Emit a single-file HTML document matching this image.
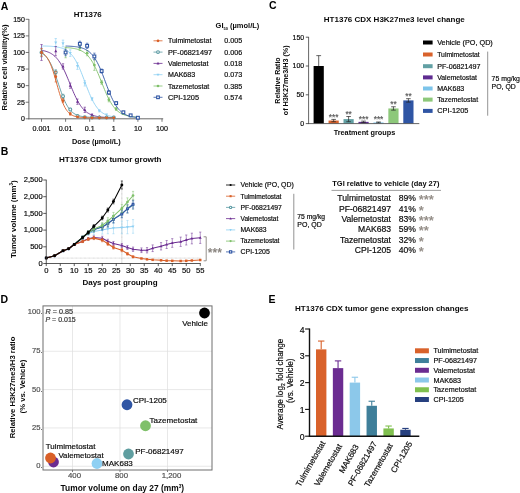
<!DOCTYPE html>
<html lang="en">
<head>
<meta charset="utf-8">
<title>HT1376 figure</title>
<style>
html,body{margin:0;padding:0;background:#fff;}
body{width:520px;height:493px;overflow:hidden;font-family:"Liberation Sans",sans-serif;}
svg text{font-family:"Liberation Sans",sans-serif;}
</style>
</head>
<body>
<svg width="520" height="493" viewBox="0 0 520 493" font-family='"Liberation Sans", sans-serif' style="display:block">
<rect width="520" height="493" fill="#fff"/>
<text x="0.80" y="9.60" font-size="10.5" font-weight="bold">A</text>
<text x="0.80" y="155.00" font-size="10.5" font-weight="bold">B</text>
<text x="268.90" y="9.20" font-size="10.5" font-weight="bold">C</text>
<text x="0.60" y="303.10" font-size="10.5" font-weight="bold">D</text>
<text x="268.50" y="303.00" font-size="10.5" font-weight="bold">E</text>
<text x="87.70" y="16.50" font-size="7.9" font-weight="bold" text-anchor="middle" fill="#0a0a0a">HT1376</text>
<text x="6.50" y="67.50" font-size="7.6" font-weight="bold" text-anchor="middle" fill="#0a0a0a" transform="rotate(-90 6.50 67.50)">Relative cell viability(%)</text>
<text x="96.40" y="144.10" font-size="7.35" font-weight="bold" text-anchor="middle" fill="#0a0a0a">Dose (µmol/L)</text>
<line x1="28.90" y1="19.00" x2="28.90" y2="119.30" stroke="#6a6a6a" stroke-width="1.0"/>
<line x1="28.40" y1="118.80" x2="163.20" y2="118.80" stroke="#6a6a6a" stroke-width="1.0"/>
<line x1="25.70" y1="118.80" x2="28.90" y2="118.80" stroke="#555" stroke-width="0.8"/>
<text x="24.90" y="121.15" font-size="7.0" text-anchor="end" fill="#0a0a0a" stroke="#0a0a0a" stroke-width="0.18">0</text>
<line x1="25.70" y1="102.22" x2="28.90" y2="102.22" stroke="#555" stroke-width="0.8"/>
<text x="24.90" y="104.57" font-size="7.0" text-anchor="end" fill="#0a0a0a" stroke="#0a0a0a" stroke-width="0.18">25</text>
<line x1="25.70" y1="85.63" x2="28.90" y2="85.63" stroke="#555" stroke-width="0.8"/>
<text x="24.90" y="87.98" font-size="7.0" text-anchor="end" fill="#0a0a0a" stroke="#0a0a0a" stroke-width="0.18">50</text>
<line x1="25.70" y1="69.05" x2="28.90" y2="69.05" stroke="#555" stroke-width="0.8"/>
<text x="24.90" y="71.40" font-size="7.0" text-anchor="end" fill="#0a0a0a" stroke="#0a0a0a" stroke-width="0.18">75</text>
<line x1="25.70" y1="52.47" x2="28.90" y2="52.47" stroke="#555" stroke-width="0.8"/>
<text x="24.90" y="54.82" font-size="7.0" text-anchor="end" fill="#0a0a0a" stroke="#0a0a0a" stroke-width="0.18">100</text>
<line x1="25.70" y1="35.88" x2="28.90" y2="35.88" stroke="#555" stroke-width="0.8"/>
<text x="24.90" y="38.23" font-size="7.0" text-anchor="end" fill="#0a0a0a" stroke="#0a0a0a" stroke-width="0.18">125</text>
<line x1="25.70" y1="19.30" x2="28.90" y2="19.30" stroke="#555" stroke-width="0.8"/>
<text x="24.90" y="21.65" font-size="7.0" text-anchor="end" fill="#0a0a0a" stroke="#0a0a0a" stroke-width="0.18">150</text>
<line x1="41.50" y1="118.80" x2="41.50" y2="121.80" stroke="#555" stroke-width="0.8"/>
<text x="41.50" y="130.80" font-size="7.15" text-anchor="middle" fill="#0a0a0a" stroke="#0a0a0a" stroke-width="0.18">0.001</text>
<line x1="65.60" y1="118.80" x2="65.60" y2="121.80" stroke="#555" stroke-width="0.8"/>
<text x="65.60" y="130.80" font-size="7.15" text-anchor="middle" fill="#0a0a0a" stroke="#0a0a0a" stroke-width="0.18">0.01</text>
<line x1="89.70" y1="118.80" x2="89.70" y2="121.80" stroke="#555" stroke-width="0.8"/>
<text x="89.70" y="130.80" font-size="7.15" text-anchor="middle" fill="#0a0a0a" stroke="#0a0a0a" stroke-width="0.18">0.1</text>
<line x1="113.80" y1="118.80" x2="113.80" y2="121.80" stroke="#555" stroke-width="0.8"/>
<text x="113.80" y="130.80" font-size="7.15" text-anchor="middle" fill="#0a0a0a" stroke="#0a0a0a" stroke-width="0.18">1</text>
<line x1="137.90" y1="118.80" x2="137.90" y2="121.80" stroke="#555" stroke-width="0.8"/>
<text x="137.90" y="130.80" font-size="7.15" text-anchor="middle" fill="#0a0a0a" stroke="#0a0a0a" stroke-width="0.18">10</text>
<line x1="162.00" y1="118.80" x2="162.00" y2="121.80" stroke="#555" stroke-width="0.8"/>
<text x="162.00" y="130.80" font-size="7.15" text-anchor="middle" fill="#0a0a0a" stroke="#0a0a0a" stroke-width="0.18">100</text>
<polyline points="41.50,45.95 42.40,45.97 43.31,45.99 44.21,46.01 45.11,46.03 46.02,46.06 46.92,46.09 47.83,46.13 48.73,46.17 49.63,46.22 50.54,46.28 51.44,46.34 52.35,46.41 53.25,46.49 54.15,46.59 55.06,46.69 55.96,46.82 56.86,46.95 57.77,47.11 58.67,47.29 59.58,47.49 60.48,47.73 61.38,47.99 62.29,48.29 63.19,48.63 64.09,49.01 65.00,49.44 65.90,49.93 66.81,50.48 67.71,51.09 68.61,51.78 69.52,52.56 70.42,53.42 71.32,54.37 72.23,55.43 73.13,56.60 74.03,57.89 74.94,59.29 75.84,60.82 76.75,62.47 77.65,64.24 78.55,66.13 79.46,68.14 80.36,70.25 81.27,72.45 82.17,74.73 83.07,77.07 83.98,79.46 84.88,81.86 85.78,84.27 86.69,86.65 87.59,88.99 88.50,91.27 89.40,93.47 90.30,95.57 91.21,97.58 92.11,99.47 93.01,101.23 93.92,102.88 94.82,104.40 95.72,105.80 96.63,107.08 97.53,108.24 98.44,109.30 99.34,110.25 100.24,111.11 101.15,111.88 102.05,112.57 102.95,113.18 103.86,113.73 104.76,114.21 105.67,114.64 106.57,115.03 107.47,115.36 108.38,115.66 109.28,115.92 110.19,116.15 111.09,116.35 111.99,116.53 112.90,116.69 113.80,116.83" fill="none" stroke="#8fd0f3" stroke-width="0.9" stroke-linejoin="round"/>
<line x1="41.50" y1="47.82" x2="41.50" y2="57.11" stroke="#8fd0f3" stroke-width="0.6"/>
<line x1="40.30" y1="47.82" x2="42.70" y2="47.82" stroke="#8fd0f3" stroke-width="0.6"/>
<line x1="40.30" y1="57.11" x2="42.70" y2="57.11" stroke="#8fd0f3" stroke-width="0.6"/>
<line x1="55.74" y1="38.54" x2="55.74" y2="46.50" stroke="#8fd0f3" stroke-width="0.6"/>
<line x1="54.54" y1="38.54" x2="56.94" y2="38.54" stroke="#8fd0f3" stroke-width="0.6"/>
<line x1="54.54" y1="46.50" x2="56.94" y2="46.50" stroke="#8fd0f3" stroke-width="0.6"/>
<line x1="63.00" y1="40.13" x2="63.00" y2="46.76" stroke="#8fd0f3" stroke-width="0.6"/>
<line x1="61.80" y1="40.13" x2="64.20" y2="40.13" stroke="#8fd0f3" stroke-width="0.6"/>
<line x1="61.80" y1="46.76" x2="64.20" y2="46.76" stroke="#8fd0f3" stroke-width="0.6"/>
<line x1="70.25" y1="49.81" x2="70.25" y2="56.45" stroke="#8fd0f3" stroke-width="0.6"/>
<line x1="69.05" y1="49.81" x2="71.45" y2="49.81" stroke="#8fd0f3" stroke-width="0.6"/>
<line x1="69.05" y1="56.45" x2="71.45" y2="56.45" stroke="#8fd0f3" stroke-width="0.6"/>
<line x1="77.44" y1="62.75" x2="77.44" y2="69.38" stroke="#8fd0f3" stroke-width="0.6"/>
<line x1="76.24" y1="62.75" x2="78.64" y2="62.75" stroke="#8fd0f3" stroke-width="0.6"/>
<line x1="76.24" y1="69.38" x2="78.64" y2="69.38" stroke="#8fd0f3" stroke-width="0.6"/>
<line x1="84.78" y1="80.72" x2="84.78" y2="86.03" stroke="#8fd0f3" stroke-width="0.6"/>
<line x1="83.58" y1="80.72" x2="85.98" y2="80.72" stroke="#8fd0f3" stroke-width="0.6"/>
<line x1="83.58" y1="86.03" x2="85.98" y2="86.03" stroke="#8fd0f3" stroke-width="0.6"/>
<line x1="92.04" y1="97.57" x2="92.04" y2="100.23" stroke="#8fd0f3" stroke-width="0.6"/>
<line x1="90.84" y1="97.57" x2="93.24" y2="97.57" stroke="#8fd0f3" stroke-width="0.6"/>
<line x1="90.84" y1="100.23" x2="93.24" y2="100.23" stroke="#8fd0f3" stroke-width="0.6"/>
<line x1="99.29" y1="109.84" x2="99.29" y2="111.83" stroke="#8fd0f3" stroke-width="0.6"/>
<line x1="98.09" y1="109.84" x2="100.49" y2="109.84" stroke="#8fd0f3" stroke-width="0.6"/>
<line x1="98.09" y1="111.83" x2="100.49" y2="111.83" stroke="#8fd0f3" stroke-width="0.6"/>
<polygon points="41.50,54.17 40.00,51.37 43.00,51.37" fill="#8fd0f3"/>
<polygon points="55.74,44.22 54.24,41.42 57.24,41.42" fill="#8fd0f3"/>
<polygon points="63.00,45.15 61.50,42.35 64.50,42.35" fill="#8fd0f3"/>
<polygon points="70.25,54.83 68.75,52.03 71.75,52.03" fill="#8fd0f3"/>
<polygon points="77.44,67.77 75.94,64.97 78.94,64.97" fill="#8fd0f3"/>
<polygon points="84.78,85.08 83.28,82.28 86.28,82.28" fill="#8fd0f3"/>
<polygon points="92.04,100.60 90.54,97.80 93.54,97.80" fill="#8fd0f3"/>
<polygon points="99.29,112.54 97.79,109.74 100.79,109.74" fill="#8fd0f3"/>
<polygon points="106.55,116.19 105.05,113.39 108.05,113.39" fill="#8fd0f3"/>
<polygon points="113.80,118.51 112.30,115.71 115.30,115.71" fill="#8fd0f3"/>
<polyline points="65.60,47.56 66.50,47.62 67.41,47.68 68.31,47.75 69.22,47.83 70.12,47.92 71.02,48.02 71.93,48.14 72.83,48.28 73.73,48.43 74.64,48.60 75.54,48.79 76.44,49.01 77.35,49.26 78.25,49.54 79.16,49.86 80.06,50.22 80.96,50.62 81.87,51.07 82.77,51.58 83.68,52.15 84.58,52.78 85.48,53.49 86.39,54.28 87.29,55.15 88.19,56.11 89.10,57.17 90.00,58.34 90.91,59.61 91.81,60.99 92.71,62.49 93.62,64.10 94.52,65.82 95.42,67.65 96.33,69.58 97.23,71.60 98.14,73.70 99.04,75.87 99.94,78.10 100.85,80.35 101.75,82.63 102.65,84.90 103.56,87.15 104.46,89.36 105.37,91.52 106.27,93.60 107.17,95.60 108.08,97.50 108.98,99.30 109.88,100.99 110.79,102.57 111.69,104.03 112.60,105.38 113.50,106.63 114.40,107.76 115.31,108.80 116.21,109.73 117.11,110.58 118.02,111.35 118.92,112.03 119.83,112.65 120.73,113.20 121.63,113.69 122.54,114.13 123.44,114.52 124.34,114.86 125.25,115.17 126.15,115.44 127.06,115.68 127.96,115.89 128.86,116.08 129.77,116.25 130.67,116.40 131.57,116.52 132.48,116.64 133.38,116.74 134.29,116.83 135.19,116.91 136.09,116.97 137.00,117.03 137.90,117.09" fill="none" stroke="#7fc06a" stroke-width="0.9" stroke-linejoin="round"/>
<line x1="65.60" y1="47.16" x2="65.60" y2="57.77" stroke="#7fc06a" stroke-width="0.6"/>
<line x1="64.40" y1="47.16" x2="66.80" y2="47.16" stroke="#7fc06a" stroke-width="0.6"/>
<line x1="64.40" y1="57.77" x2="66.80" y2="57.77" stroke="#7fc06a" stroke-width="0.6"/>
<line x1="79.86" y1="45.17" x2="79.86" y2="50.48" stroke="#7fc06a" stroke-width="0.6"/>
<line x1="78.66" y1="45.17" x2="81.06" y2="45.17" stroke="#7fc06a" stroke-width="0.6"/>
<line x1="78.66" y1="50.48" x2="81.06" y2="50.48" stroke="#7fc06a" stroke-width="0.6"/>
<line x1="87.12" y1="50.48" x2="87.12" y2="55.78" stroke="#7fc06a" stroke-width="0.6"/>
<line x1="85.92" y1="50.48" x2="88.32" y2="50.48" stroke="#7fc06a" stroke-width="0.6"/>
<line x1="85.92" y1="55.78" x2="88.32" y2="55.78" stroke="#7fc06a" stroke-width="0.6"/>
<line x1="94.37" y1="59.76" x2="94.37" y2="70.38" stroke="#7fc06a" stroke-width="0.6"/>
<line x1="93.17" y1="59.76" x2="95.57" y2="59.76" stroke="#7fc06a" stroke-width="0.6"/>
<line x1="93.17" y1="70.38" x2="95.57" y2="70.38" stroke="#7fc06a" stroke-width="0.6"/>
<line x1="101.63" y1="80.33" x2="101.63" y2="84.31" stroke="#7fc06a" stroke-width="0.6"/>
<line x1="100.43" y1="80.33" x2="102.83" y2="80.33" stroke="#7fc06a" stroke-width="0.6"/>
<line x1="100.43" y1="84.31" x2="102.83" y2="84.31" stroke="#7fc06a" stroke-width="0.6"/>
<line x1="108.88" y1="97.84" x2="108.88" y2="101.82" stroke="#7fc06a" stroke-width="0.6"/>
<line x1="107.68" y1="97.84" x2="110.08" y2="97.84" stroke="#7fc06a" stroke-width="0.6"/>
<line x1="107.68" y1="101.82" x2="110.08" y2="101.82" stroke="#7fc06a" stroke-width="0.6"/>
<line x1="116.14" y1="107.66" x2="116.14" y2="110.31" stroke="#7fc06a" stroke-width="0.6"/>
<line x1="114.94" y1="107.66" x2="117.34" y2="107.66" stroke="#7fc06a" stroke-width="0.6"/>
<line x1="114.94" y1="110.31" x2="117.34" y2="110.31" stroke="#7fc06a" stroke-width="0.6"/>
<line x1="123.39" y1="112.50" x2="123.39" y2="114.49" stroke="#7fc06a" stroke-width="0.6"/>
<line x1="122.19" y1="112.50" x2="124.59" y2="112.50" stroke="#7fc06a" stroke-width="0.6"/>
<line x1="122.19" y1="114.49" x2="124.59" y2="114.49" stroke="#7fc06a" stroke-width="0.6"/>
<circle cx="65.60" cy="52.47" r="1.4" fill="#7fc06a" stroke="none" stroke-width="0"/>
<circle cx="79.86" cy="47.82" r="1.4" fill="#7fc06a" stroke="none" stroke-width="0"/>
<circle cx="87.12" cy="53.13" r="1.4" fill="#7fc06a" stroke="none" stroke-width="0"/>
<circle cx="94.37" cy="65.07" r="1.4" fill="#7fc06a" stroke="none" stroke-width="0"/>
<circle cx="101.63" cy="82.32" r="1.4" fill="#7fc06a" stroke="none" stroke-width="0"/>
<circle cx="108.88" cy="99.83" r="1.4" fill="#7fc06a" stroke="none" stroke-width="0"/>
<circle cx="116.14" cy="108.98" r="1.4" fill="#7fc06a" stroke="none" stroke-width="0"/>
<circle cx="123.39" cy="113.49" r="1.4" fill="#7fc06a" stroke="none" stroke-width="0"/>
<circle cx="130.65" cy="116.01" r="1.4" fill="#7fc06a" stroke="none" stroke-width="0"/>
<circle cx="137.90" cy="117.74" r="1.4" fill="#7fc06a" stroke="none" stroke-width="0"/>
<polyline points="65.60,46.03 66.50,46.06 67.41,46.09 68.31,46.13 69.22,46.17 70.12,46.22 71.02,46.27 71.93,46.34 72.83,46.41 73.73,46.49 74.64,46.58 75.54,46.69 76.44,46.81 77.35,46.94 78.25,47.10 79.16,47.28 80.06,47.48 80.96,47.71 81.87,47.97 82.77,48.27 83.68,48.60 84.58,48.98 85.48,49.41 86.39,49.89 87.29,50.44 88.19,51.05 89.10,51.73 90.00,52.50 90.91,53.36 91.81,54.31 92.71,55.36 93.62,56.53 94.52,57.80 95.42,59.20 96.33,60.72 97.23,62.36 98.14,64.13 99.04,66.02 99.94,68.03 100.85,70.14 101.75,72.34 102.65,74.62 103.56,76.97 104.46,79.36 105.37,81.78 106.27,84.19 107.17,86.59 108.08,88.95 108.98,91.24 109.88,93.46 110.79,95.59 111.69,97.61 112.60,99.52 113.50,101.31 114.40,102.98 115.31,104.52 116.21,105.94 117.11,107.23 118.02,108.42 118.92,109.49 119.83,110.46 120.73,111.33 121.63,112.11 122.54,112.81 123.44,113.43 124.34,113.99 125.25,114.48 126.15,114.92 127.06,115.31 127.96,115.65 128.86,115.95 129.77,116.22 130.67,116.45 131.57,116.66 132.48,116.84 133.38,117.00 134.29,117.14 135.19,117.26 136.09,117.37 137.00,117.47 137.90,117.55" fill="none" stroke="#2f55a4" stroke-width="0.9" stroke-linejoin="round"/>
<line x1="65.60" y1="49.15" x2="65.60" y2="55.78" stroke="#2f55a4" stroke-width="0.6"/>
<line x1="64.40" y1="49.15" x2="66.80" y2="49.15" stroke="#2f55a4" stroke-width="0.6"/>
<line x1="64.40" y1="55.78" x2="66.80" y2="55.78" stroke="#2f55a4" stroke-width="0.6"/>
<line x1="79.86" y1="41.19" x2="79.86" y2="46.50" stroke="#2f55a4" stroke-width="0.6"/>
<line x1="78.66" y1="41.19" x2="81.06" y2="41.19" stroke="#2f55a4" stroke-width="0.6"/>
<line x1="78.66" y1="46.50" x2="81.06" y2="46.50" stroke="#2f55a4" stroke-width="0.6"/>
<line x1="87.12" y1="43.18" x2="87.12" y2="48.49" stroke="#2f55a4" stroke-width="0.6"/>
<line x1="85.92" y1="43.18" x2="88.32" y2="43.18" stroke="#2f55a4" stroke-width="0.6"/>
<line x1="85.92" y1="48.49" x2="88.32" y2="48.49" stroke="#2f55a4" stroke-width="0.6"/>
<line x1="94.37" y1="53.13" x2="94.37" y2="59.76" stroke="#2f55a4" stroke-width="0.6"/>
<line x1="93.17" y1="53.13" x2="95.57" y2="53.13" stroke="#2f55a4" stroke-width="0.6"/>
<line x1="93.17" y1="59.76" x2="95.57" y2="59.76" stroke="#2f55a4" stroke-width="0.6"/>
<line x1="101.63" y1="69.05" x2="101.63" y2="73.03" stroke="#2f55a4" stroke-width="0.6"/>
<line x1="100.43" y1="69.05" x2="102.83" y2="69.05" stroke="#2f55a4" stroke-width="0.6"/>
<line x1="100.43" y1="73.03" x2="102.83" y2="73.03" stroke="#2f55a4" stroke-width="0.6"/>
<line x1="108.88" y1="90.54" x2="108.88" y2="94.52" stroke="#2f55a4" stroke-width="0.6"/>
<line x1="107.68" y1="90.54" x2="110.08" y2="90.54" stroke="#2f55a4" stroke-width="0.6"/>
<line x1="107.68" y1="94.52" x2="110.08" y2="94.52" stroke="#2f55a4" stroke-width="0.6"/>
<line x1="116.14" y1="101.82" x2="116.14" y2="104.47" stroke="#2f55a4" stroke-width="0.6"/>
<line x1="114.94" y1="101.82" x2="117.34" y2="101.82" stroke="#2f55a4" stroke-width="0.6"/>
<line x1="114.94" y1="104.47" x2="117.34" y2="104.47" stroke="#2f55a4" stroke-width="0.6"/>
<line x1="123.39" y1="111.30" x2="123.39" y2="113.29" stroke="#2f55a4" stroke-width="0.6"/>
<line x1="122.19" y1="111.30" x2="124.59" y2="111.30" stroke="#2f55a4" stroke-width="0.6"/>
<line x1="122.19" y1="113.29" x2="124.59" y2="113.29" stroke="#2f55a4" stroke-width="0.6"/>
<rect x="64.20" y="51.07" width="2.80" height="2.80" fill="#fff" stroke="#2f55a4" stroke-width="1.1"/>
<rect x="78.46" y="42.44" width="2.80" height="2.80" fill="#fff" stroke="#2f55a4" stroke-width="1.1"/>
<rect x="85.72" y="44.43" width="2.80" height="2.80" fill="#fff" stroke="#2f55a4" stroke-width="1.1"/>
<rect x="92.97" y="55.05" width="2.80" height="2.80" fill="#fff" stroke="#2f55a4" stroke-width="1.1"/>
<rect x="100.23" y="69.64" width="2.80" height="2.80" fill="#fff" stroke="#2f55a4" stroke-width="1.1"/>
<rect x="107.48" y="91.13" width="2.80" height="2.80" fill="#fff" stroke="#2f55a4" stroke-width="1.1"/>
<rect x="114.74" y="101.75" width="2.80" height="2.80" fill="#fff" stroke="#2f55a4" stroke-width="1.1"/>
<rect x="121.99" y="110.90" width="2.80" height="2.80" fill="#fff" stroke="#2f55a4" stroke-width="1.1"/>
<rect x="129.25" y="113.95" width="2.80" height="2.80" fill="#fff" stroke="#2f55a4" stroke-width="1.1"/>
<rect x="136.50" y="116.34" width="2.80" height="2.80" fill="#fff" stroke="#2f55a4" stroke-width="1.1"/>
<polyline points="41.50,50.31 42.40,50.47 43.31,50.65 44.21,50.85 45.11,51.08 46.02,51.34 46.92,51.63 47.83,51.96 48.73,52.33 49.63,52.74 50.54,53.21 51.44,53.73 52.35,54.32 53.25,54.97 54.15,55.70 55.06,56.51 55.96,57.41 56.86,58.40 57.77,59.48 58.67,60.67 59.58,61.97 60.48,63.37 61.38,64.89 62.29,66.51 63.19,68.25 64.09,70.08 65.00,72.01 65.90,74.03 66.81,76.12 67.71,78.27 68.61,80.46 69.52,82.67 70.42,84.89 71.32,87.10 72.23,89.28 73.13,91.42 74.03,93.49 74.94,95.48 75.84,97.39 76.75,99.19 77.65,100.90 78.55,102.49 79.46,103.98 80.36,105.36 81.27,106.62 82.17,107.78 83.07,108.84 83.98,109.80 84.88,110.67 85.78,111.46 86.69,112.17 87.59,112.80 88.50,113.37 89.40,113.88 90.30,114.33 91.21,114.73 92.11,115.09 93.01,115.41 93.92,115.69 94.82,115.94 95.72,116.16 96.63,116.36 97.53,116.53 98.44,116.68 99.34,116.82 100.24,116.94 101.15,117.04 102.05,117.13 102.95,117.21 103.86,117.28 104.76,117.35 105.67,117.40 106.57,117.45 107.47,117.49 108.38,117.53 109.28,117.56 110.19,117.59 111.09,117.62 111.99,117.64 112.90,117.66 113.80,117.68" fill="none" stroke="#6b2c91" stroke-width="0.9" stroke-linejoin="round"/>
<line x1="41.50" y1="44.51" x2="41.50" y2="60.43" stroke="#6b2c91" stroke-width="0.6"/>
<line x1="40.30" y1="44.51" x2="42.70" y2="44.51" stroke="#6b2c91" stroke-width="0.6"/>
<line x1="40.30" y1="60.43" x2="42.70" y2="60.43" stroke="#6b2c91" stroke-width="0.6"/>
<line x1="55.74" y1="46.50" x2="55.74" y2="55.78" stroke="#6b2c91" stroke-width="0.6"/>
<line x1="54.54" y1="46.50" x2="56.94" y2="46.50" stroke="#6b2c91" stroke-width="0.6"/>
<line x1="54.54" y1="55.78" x2="56.94" y2="55.78" stroke="#6b2c91" stroke-width="0.6"/>
<line x1="63.00" y1="63.74" x2="63.00" y2="69.05" stroke="#6b2c91" stroke-width="0.6"/>
<line x1="61.80" y1="63.74" x2="64.20" y2="63.74" stroke="#6b2c91" stroke-width="0.6"/>
<line x1="61.80" y1="69.05" x2="64.20" y2="69.05" stroke="#6b2c91" stroke-width="0.6"/>
<line x1="70.25" y1="82.98" x2="70.25" y2="88.29" stroke="#6b2c91" stroke-width="0.6"/>
<line x1="69.05" y1="82.98" x2="71.45" y2="82.98" stroke="#6b2c91" stroke-width="0.6"/>
<line x1="69.05" y1="88.29" x2="71.45" y2="88.29" stroke="#6b2c91" stroke-width="0.6"/>
<line x1="77.44" y1="99.03" x2="77.44" y2="104.34" stroke="#6b2c91" stroke-width="0.6"/>
<line x1="76.24" y1="99.03" x2="78.64" y2="99.03" stroke="#6b2c91" stroke-width="0.6"/>
<line x1="76.24" y1="104.34" x2="78.64" y2="104.34" stroke="#6b2c91" stroke-width="0.6"/>
<line x1="84.78" y1="107.19" x2="84.78" y2="112.50" stroke="#6b2c91" stroke-width="0.6"/>
<line x1="83.58" y1="107.19" x2="85.98" y2="107.19" stroke="#6b2c91" stroke-width="0.6"/>
<line x1="83.58" y1="112.50" x2="85.98" y2="112.50" stroke="#6b2c91" stroke-width="0.6"/>
<line x1="92.04" y1="114.02" x2="92.04" y2="116.01" stroke="#6b2c91" stroke-width="0.6"/>
<line x1="90.84" y1="114.02" x2="93.24" y2="114.02" stroke="#6b2c91" stroke-width="0.6"/>
<line x1="90.84" y1="116.01" x2="93.24" y2="116.01" stroke="#6b2c91" stroke-width="0.6"/>
<polygon points="41.50,50.77 40.00,53.57 43.00,53.57" fill="#6b2c91"/>
<polygon points="55.74,49.44 54.24,52.24 57.24,52.24" fill="#6b2c91"/>
<polygon points="63.00,64.70 61.50,67.50 64.50,67.50" fill="#6b2c91"/>
<polygon points="70.25,83.93 68.75,86.73 71.75,86.73" fill="#6b2c91"/>
<polygon points="77.44,99.99 75.94,102.79 78.94,102.79" fill="#6b2c91"/>
<polygon points="84.78,108.14 83.28,110.94 86.28,110.94" fill="#6b2c91"/>
<polygon points="92.04,113.32 90.54,116.12 93.54,116.12" fill="#6b2c91"/>
<polygon points="99.29,115.11 97.79,117.91 100.79,117.91" fill="#6b2c91"/>
<polygon points="106.55,115.77 105.05,118.57 108.05,118.57" fill="#6b2c91"/>
<polygon points="113.80,115.77 112.30,118.57 115.30,118.57" fill="#6b2c91"/>
<polyline points="41.50,53.09 42.40,53.63 43.31,54.25 44.21,54.95 45.11,55.77 46.02,56.69 46.92,57.74 47.83,58.93 48.73,60.27 49.63,61.76 50.54,63.41 51.44,65.23 52.35,67.22 53.25,69.36 54.15,71.65 55.06,74.08 55.96,76.62 56.86,79.24 57.77,81.92 58.67,84.62 59.58,87.31 60.48,89.95 61.38,92.51 62.29,94.97 63.19,97.30 64.09,99.49 65.00,101.52 65.90,103.38 66.81,105.08 67.71,106.62 68.61,108.00 69.52,109.23 70.42,110.31 71.32,111.27 72.23,112.12 73.13,112.85 74.03,113.50 74.94,114.05 75.84,114.54 76.75,114.95 77.65,115.31 78.55,115.62 79.46,115.89 80.36,116.12 81.27,116.32 82.17,116.48 83.07,116.63 83.98,116.75 84.88,116.86 85.78,116.95 86.69,117.02 87.59,117.09 88.50,117.15 89.40,117.19 90.30,117.24 91.21,117.27 92.11,117.30 93.01,117.33 93.92,117.35 94.82,117.37 95.72,117.38 96.63,117.40 97.53,117.41 98.44,117.42 99.34,117.43 100.24,117.43 101.15,117.44 102.05,117.44 102.95,117.45 103.86,117.45 104.76,117.45 105.67,117.46 106.57,117.46 107.47,117.46 108.38,117.46 109.28,117.47 110.19,117.47 111.09,117.47 111.99,117.47 112.90,117.47 113.80,117.47" fill="none" stroke="#5b9aa3" stroke-width="0.9" stroke-linejoin="round"/>
<line x1="41.50" y1="49.15" x2="41.50" y2="55.78" stroke="#5b9aa3" stroke-width="0.6"/>
<line x1="40.30" y1="49.15" x2="42.70" y2="49.15" stroke="#5b9aa3" stroke-width="0.6"/>
<line x1="40.30" y1="55.78" x2="42.70" y2="55.78" stroke="#5b9aa3" stroke-width="0.6"/>
<line x1="55.76" y1="69.71" x2="55.76" y2="75.02" stroke="#5b9aa3" stroke-width="0.6"/>
<line x1="54.56" y1="69.71" x2="56.96" y2="69.71" stroke="#5b9aa3" stroke-width="0.6"/>
<line x1="54.56" y1="75.02" x2="56.96" y2="75.02" stroke="#5b9aa3" stroke-width="0.6"/>
<line x1="63.02" y1="94.26" x2="63.02" y2="98.24" stroke="#5b9aa3" stroke-width="0.6"/>
<line x1="61.82" y1="94.26" x2="64.22" y2="94.26" stroke="#5b9aa3" stroke-width="0.6"/>
<line x1="61.82" y1="98.24" x2="64.22" y2="98.24" stroke="#5b9aa3" stroke-width="0.6"/>
<line x1="70.27" y1="108.19" x2="70.27" y2="110.84" stroke="#5b9aa3" stroke-width="0.6"/>
<line x1="69.07" y1="108.19" x2="71.47" y2="108.19" stroke="#5b9aa3" stroke-width="0.6"/>
<line x1="69.07" y1="110.84" x2="71.47" y2="110.84" stroke="#5b9aa3" stroke-width="0.6"/>
<circle cx="41.50" cy="52.47" r="1.45" fill="#fff" stroke="#5b9aa3" stroke-width="1.1"/>
<circle cx="55.76" cy="72.37" r="1.45" fill="#fff" stroke="#5b9aa3" stroke-width="1.1"/>
<circle cx="63.02" cy="96.25" r="1.45" fill="#fff" stroke="#5b9aa3" stroke-width="1.1"/>
<circle cx="70.27" cy="109.51" r="1.45" fill="#fff" stroke="#5b9aa3" stroke-width="1.1"/>
<circle cx="77.53" cy="115.88" r="1.45" fill="#fff" stroke="#5b9aa3" stroke-width="1.1"/>
<circle cx="84.78" cy="117.14" r="1.45" fill="#fff" stroke="#5b9aa3" stroke-width="1.1"/>
<circle cx="92.04" cy="117.47" r="1.45" fill="#fff" stroke="#5b9aa3" stroke-width="1.1"/>
<circle cx="99.29" cy="117.47" r="1.45" fill="#fff" stroke="#5b9aa3" stroke-width="1.1"/>
<circle cx="106.55" cy="117.47" r="1.45" fill="#fff" stroke="#5b9aa3" stroke-width="1.1"/>
<circle cx="113.80" cy="117.47" r="1.45" fill="#fff" stroke="#5b9aa3" stroke-width="1.1"/>
<polyline points="41.50,52.45 42.40,52.98 43.31,53.61 44.21,54.35 45.11,55.22 46.02,56.24 46.92,57.44 47.83,58.82 48.73,60.41 49.63,62.22 50.54,64.27 51.44,66.55 52.35,69.06 53.25,71.78 54.15,74.70 55.06,77.76 55.96,80.93 56.86,84.16 57.77,87.37 58.67,90.52 59.58,93.56 60.48,96.44 61.38,99.12 62.29,101.58 63.19,103.81 64.09,105.80 65.00,107.57 65.90,109.11 66.81,110.45 67.71,111.61 68.61,112.60 69.52,113.44 70.42,114.16 71.32,114.76 72.23,115.27 73.13,115.69 74.03,116.05 74.94,116.35 75.84,116.59 76.75,116.80 77.65,116.97 78.55,117.11 79.46,117.23 80.36,117.33 81.27,117.41 82.17,117.48 83.07,117.54 83.98,117.58 84.88,117.62 85.78,117.65 86.69,117.68 87.59,117.70 88.50,117.72 89.40,117.73 90.30,117.75 91.21,117.76 92.11,117.76 93.01,117.77 93.92,117.78 94.82,117.78 95.72,117.79 96.63,117.79 97.53,117.79 98.44,117.79 99.34,117.80 100.24,117.80 101.15,117.80 102.05,117.80 102.95,117.80 103.86,117.80 104.76,117.80 105.67,117.80 106.57,117.80 107.47,117.80 108.38,117.80 109.28,117.80 110.19,117.80 111.09,117.80 111.99,117.80 112.90,117.80 113.80,117.80" fill="none" stroke="#d95f27" stroke-width="0.9" stroke-linejoin="round"/>
<line x1="41.50" y1="48.49" x2="41.50" y2="56.45" stroke="#d95f27" stroke-width="0.6"/>
<line x1="40.30" y1="48.49" x2="42.70" y2="48.49" stroke="#d95f27" stroke-width="0.6"/>
<line x1="40.30" y1="56.45" x2="42.70" y2="56.45" stroke="#d95f27" stroke-width="0.6"/>
<line x1="55.76" y1="71.37" x2="55.76" y2="81.98" stroke="#d95f27" stroke-width="0.6"/>
<line x1="54.56" y1="71.37" x2="56.96" y2="71.37" stroke="#d95f27" stroke-width="0.6"/>
<line x1="54.56" y1="81.98" x2="56.96" y2="81.98" stroke="#d95f27" stroke-width="0.6"/>
<line x1="63.02" y1="98.70" x2="63.02" y2="102.68" stroke="#d95f27" stroke-width="0.6"/>
<line x1="61.82" y1="98.70" x2="64.22" y2="98.70" stroke="#d95f27" stroke-width="0.6"/>
<line x1="61.82" y1="102.68" x2="64.22" y2="102.68" stroke="#d95f27" stroke-width="0.6"/>
<line x1="70.27" y1="112.50" x2="70.27" y2="115.15" stroke="#d95f27" stroke-width="0.6"/>
<line x1="69.07" y1="112.50" x2="71.47" y2="112.50" stroke="#d95f27" stroke-width="0.6"/>
<line x1="69.07" y1="115.15" x2="71.47" y2="115.15" stroke="#d95f27" stroke-width="0.6"/>
<circle cx="41.50" cy="52.47" r="1.4" fill="#d95f27" stroke="none" stroke-width="0"/>
<circle cx="55.76" cy="76.68" r="1.4" fill="#d95f27" stroke="none" stroke-width="0"/>
<circle cx="63.02" cy="100.69" r="1.4" fill="#d95f27" stroke="none" stroke-width="0"/>
<circle cx="70.27" cy="113.83" r="1.4" fill="#d95f27" stroke="none" stroke-width="0"/>
<circle cx="77.53" cy="116.81" r="1.4" fill="#d95f27" stroke="none" stroke-width="0"/>
<circle cx="84.78" cy="117.47" r="1.4" fill="#d95f27" stroke="none" stroke-width="0"/>
<circle cx="92.04" cy="117.80" r="1.4" fill="#d95f27" stroke="none" stroke-width="0"/>
<circle cx="99.29" cy="117.80" r="1.4" fill="#d95f27" stroke="none" stroke-width="0"/>
<circle cx="106.55" cy="117.80" r="1.4" fill="#d95f27" stroke="none" stroke-width="0"/>
<circle cx="113.80" cy="117.80" r="1.4" fill="#d95f27" stroke="none" stroke-width="0"/>
<line x1="153.50" y1="40.80" x2="162.50" y2="40.80" stroke="#d95f27" stroke-width="0.8"/>
<circle cx="158.00" cy="40.80" r="1.3299999999999998" fill="#d95f27" stroke="none" stroke-width="0"/>
<text x="168.00" y="43.30" font-size="6.95" fill="#0a0a0a" stroke="#0a0a0a" stroke-width="0.18">Tulmimetostat</text>
<text x="224.30" y="43.30" font-size="7.15" fill="#0a0a0a" stroke="#0a0a0a" stroke-width="0.18">0.005</text>
<line x1="153.50" y1="52.10" x2="162.50" y2="52.10" stroke="#5b9aa3" stroke-width="0.8"/>
<circle cx="158.00" cy="52.10" r="1.3775" fill="#fff" stroke="#5b9aa3" stroke-width="1.1"/>
<text x="168.00" y="54.60" font-size="7.28" fill="#0a0a0a" stroke="#0a0a0a" stroke-width="0.18">PF-06821497</text>
<text x="224.30" y="54.60" font-size="7.15" fill="#0a0a0a" stroke="#0a0a0a" stroke-width="0.18">0.006</text>
<line x1="153.50" y1="63.40" x2="162.50" y2="63.40" stroke="#6b2c91" stroke-width="0.8"/>
<polygon points="158.00,61.78 156.57,64.44 159.43,64.44" fill="#6b2c91"/>
<text x="168.00" y="65.90" font-size="7.0" fill="#0a0a0a" stroke="#0a0a0a" stroke-width="0.18">Valemetostat</text>
<text x="224.30" y="65.90" font-size="7.15" fill="#0a0a0a" stroke="#0a0a0a" stroke-width="0.18">0.018</text>
<line x1="153.50" y1="74.70" x2="162.50" y2="74.70" stroke="#8fd0f3" stroke-width="0.8"/>
<polygon points="158.00,76.31 156.57,73.66 159.43,73.66" fill="#8fd0f3"/>
<text x="168.00" y="77.20" font-size="7.1" fill="#0a0a0a" stroke="#0a0a0a" stroke-width="0.18">MAK683</text>
<text x="224.30" y="77.20" font-size="7.15" fill="#0a0a0a" stroke="#0a0a0a" stroke-width="0.18">0.073</text>
<line x1="153.50" y1="86.00" x2="162.50" y2="86.00" stroke="#7fc06a" stroke-width="0.8"/>
<circle cx="158.00" cy="86.00" r="1.3299999999999998" fill="#7fc06a" stroke="none" stroke-width="0"/>
<text x="168.00" y="88.50" font-size="6.95" fill="#0a0a0a" stroke="#0a0a0a" stroke-width="0.18">Tazemetostat</text>
<text x="224.30" y="88.50" font-size="7.15" fill="#0a0a0a" stroke="#0a0a0a" stroke-width="0.18">0.385</text>
<line x1="153.50" y1="97.30" x2="162.50" y2="97.30" stroke="#2f55a4" stroke-width="0.8"/>
<rect x="156.67" y="95.97" width="2.66" height="2.66" fill="#fff" stroke="#2f55a4" stroke-width="1.1"/>
<text x="168.00" y="99.80" font-size="7.35" fill="#0a0a0a" stroke="#0a0a0a" stroke-width="0.18">CPI-1205</text>
<text x="224.30" y="99.80" font-size="7.15" fill="#0a0a0a" stroke="#0a0a0a" stroke-width="0.18">0.574</text>
<text x="215.60" y="27.50" font-size="7.5" font-weight="bold" fill="#0a0a0a">GI<tspan font-size="4.0" dy="2.4">50</tspan><tspan dy="-2.4"> (µmol/L)</tspan></text>
<text x="394.30" y="21.60" font-size="8.0" font-weight="bold" text-anchor="middle" fill="#0a0a0a">HT1376 CDX H3K27me3 level change</text>
<text x="364.50" y="135.00" font-size="7.3" font-weight="bold" text-anchor="middle" fill="#0a0a0a">Treatment groups</text>
<text x="279.60" y="80.50" font-size="7.0" font-weight="bold" text-anchor="middle" fill="#0a0a0a" transform="rotate(-90 279.60 80.50)">Relative Ratio</text>
<text x="287.60" y="80.30" font-size="7.2" font-weight="bold" text-anchor="middle" fill="#0a0a0a" transform="rotate(-90 287.60 80.30)">of H3K27me3/H3 (%)</text>
<rect x="313.60" y="66.00" width="10.20" height="57.60" fill="#000"/>
<line x1="318.70" y1="55.63" x2="318.70" y2="66.00" stroke="#222" stroke-width="0.7"/>
<line x1="316.30" y1="55.63" x2="321.10" y2="55.63" stroke="#222" stroke-width="0.7"/>
<rect x="328.55" y="120.55" width="10.20" height="3.05" fill="#d9622b"/>
<line x1="333.65" y1="119.40" x2="333.65" y2="121.70" stroke="#222" stroke-width="0.7"/>
<line x1="331.35" y1="119.40" x2="335.95" y2="119.40" stroke="#222" stroke-width="0.7"/>
<line x1="331.35" y1="121.70" x2="335.95" y2="121.70" stroke="#222" stroke-width="0.7"/>
<text x="333.65" y="119.90" font-size="8.2" font-weight="bold" text-anchor="middle" fill="#666">***</text>
<rect x="343.50" y="119.11" width="10.20" height="4.49" fill="#62a0a4"/>
<line x1="348.60" y1="116.52" x2="348.60" y2="121.70" stroke="#222" stroke-width="0.7"/>
<line x1="346.30" y1="116.52" x2="350.90" y2="116.52" stroke="#222" stroke-width="0.7"/>
<line x1="346.30" y1="121.70" x2="350.90" y2="121.70" stroke="#222" stroke-width="0.7"/>
<text x="348.60" y="117.02" font-size="8.2" font-weight="bold" text-anchor="middle" fill="#666">**</text>
<rect x="358.45" y="121.87" width="10.20" height="1.73" fill="#5f2c91"/>
<line x1="363.55" y1="121.12" x2="363.55" y2="122.62" stroke="#222" stroke-width="0.7"/>
<line x1="361.25" y1="121.12" x2="365.85" y2="121.12" stroke="#222" stroke-width="0.7"/>
<line x1="361.25" y1="122.62" x2="365.85" y2="122.62" stroke="#222" stroke-width="0.7"/>
<text x="363.55" y="121.62" font-size="8.2" font-weight="bold" text-anchor="middle" fill="#666">***</text>
<rect x="373.40" y="122.45" width="10.20" height="1.15" fill="#7cc4ea"/>
<line x1="378.50" y1="121.99" x2="378.50" y2="122.91" stroke="#222" stroke-width="0.7"/>
<line x1="376.20" y1="121.99" x2="380.80" y2="121.99" stroke="#222" stroke-width="0.7"/>
<line x1="376.20" y1="122.91" x2="380.80" y2="122.91" stroke="#222" stroke-width="0.7"/>
<text x="378.50" y="122.49" font-size="8.2" font-weight="bold" text-anchor="middle" fill="#666">***</text>
<rect x="388.35" y="108.45" width="10.20" height="15.15" fill="#8dc87a"/>
<line x1="393.45" y1="106.78" x2="393.45" y2="110.12" stroke="#222" stroke-width="0.7"/>
<line x1="391.15" y1="106.78" x2="395.75" y2="106.78" stroke="#222" stroke-width="0.7"/>
<line x1="391.15" y1="110.12" x2="395.75" y2="110.12" stroke="#222" stroke-width="0.7"/>
<text x="393.45" y="107.28" font-size="8.2" font-weight="bold" text-anchor="middle" fill="#666">**</text>
<rect x="403.30" y="100.39" width="10.20" height="23.21" fill="#2f55a4"/>
<line x1="408.40" y1="98.66" x2="408.40" y2="102.12" stroke="#222" stroke-width="0.7"/>
<line x1="406.10" y1="98.66" x2="410.70" y2="98.66" stroke="#222" stroke-width="0.7"/>
<line x1="406.10" y1="102.12" x2="410.70" y2="102.12" stroke="#222" stroke-width="0.7"/>
<text x="408.40" y="99.16" font-size="8.2" font-weight="bold" text-anchor="middle" fill="#666">**</text>
<line x1="308.60" y1="36.90" x2="308.60" y2="124.00" stroke="#555" stroke-width="0.9"/>
<line x1="308.20" y1="123.60" x2="419.30" y2="123.60" stroke="#555" stroke-width="0.9"/>
<line x1="305.80" y1="123.60" x2="308.60" y2="123.60" stroke="#333" stroke-width="0.8"/>
<text x="304.10" y="126.00" font-size="6.9" text-anchor="end" fill="#0a0a0a" stroke="#0a0a0a" stroke-width="0.18">0</text>
<line x1="305.80" y1="94.80" x2="308.60" y2="94.80" stroke="#333" stroke-width="0.8"/>
<text x="304.10" y="97.20" font-size="6.9" text-anchor="end" fill="#0a0a0a" stroke="#0a0a0a" stroke-width="0.18">50</text>
<line x1="305.80" y1="66.00" x2="308.60" y2="66.00" stroke="#333" stroke-width="0.8"/>
<text x="304.10" y="68.40" font-size="6.9" text-anchor="end" fill="#0a0a0a" stroke="#0a0a0a" stroke-width="0.18">100</text>
<line x1="305.80" y1="37.20" x2="308.60" y2="37.20" stroke="#333" stroke-width="0.8"/>
<text x="304.10" y="39.60" font-size="6.9" text-anchor="end" fill="#0a0a0a" stroke="#0a0a0a" stroke-width="0.18">150</text>
<rect x="423.00" y="40.50" width="9.60" height="4.00" fill="#000"/>
<text x="437.20" y="45.00" font-size="7.25" fill="#0a0a0a" stroke="#0a0a0a" stroke-width="0.18">Vehicle (PO, QD)</text>
<rect x="423.00" y="52.50" width="9.60" height="4.00" fill="#d9622b"/>
<text x="437.20" y="57.00" font-size="6.82" fill="#0a0a0a" stroke="#0a0a0a" stroke-width="0.18">Tulmimetostat</text>
<rect x="423.00" y="64.20" width="9.60" height="4.00" fill="#62a0a4"/>
<text x="437.20" y="68.70" font-size="7.14" fill="#0a0a0a" stroke="#0a0a0a" stroke-width="0.18">PF-06821497</text>
<rect x="423.00" y="75.40" width="9.60" height="4.00" fill="#5f2c91"/>
<text x="437.20" y="79.90" font-size="6.9" fill="#0a0a0a" stroke="#0a0a0a" stroke-width="0.18">Valemetostat</text>
<rect x="423.00" y="86.50" width="9.60" height="4.00" fill="#7cc4ea"/>
<text x="437.20" y="91.00" font-size="7.05" fill="#0a0a0a" stroke="#0a0a0a" stroke-width="0.18">MAK683</text>
<rect x="423.00" y="97.60" width="9.60" height="4.00" fill="#8dc87a"/>
<text x="437.20" y="102.10" font-size="6.88" fill="#0a0a0a" stroke="#0a0a0a" stroke-width="0.18">Tazemetostat</text>
<rect x="423.00" y="108.90" width="9.60" height="4.00" fill="#2f55a4"/>
<text x="437.20" y="113.40" font-size="7.4" fill="#0a0a0a" stroke="#0a0a0a" stroke-width="0.18">CPI-1205</text>
<line x1="487.70" y1="51.60" x2="487.70" y2="115.70" stroke="#777" stroke-width="0.8"/>
<text x="491.60" y="80.80" font-size="6.9" fill="#0a0a0a" stroke="#0a0a0a" stroke-width="0.18">75 mg/kg</text>
<text x="491.60" y="88.80" font-size="6.9" fill="#0a0a0a" stroke="#0a0a0a" stroke-width="0.18">PO, QD</text>
<text x="110.30" y="162.00" font-size="8.1" font-weight="bold" text-anchor="middle" fill="#0a0a0a">HT1376 CDX tumor growth</text>
<text x="120.00" y="284.60" font-size="8.0" font-weight="bold" text-anchor="middle" fill="#0a0a0a">Days post grouping</text>
<text x="15.60" y="219.20" font-size="7.9" font-weight="bold" text-anchor="middle" fill="#0a0a0a" transform="rotate(-90 15.60 219.20)">Tumor volume (mm<tspan font-size="4.6" dy="-2.8">3</tspan><tspan dy="2.8">)</tspan></text>
<line x1="46.25" y1="258.10" x2="200.50" y2="258.10" stroke="#8a8a8a" stroke-width="0.4" stroke-dasharray="0.8 0.5"/>
<line x1="121.85" y1="180.00" x2="121.85" y2="263.50" stroke="#777" stroke-width="0.45" stroke-dasharray="0.8 0.5"/>
<line x1="74.25" y1="243.49" x2="74.25" y2="245.50" stroke="#8fd0f3" stroke-width="0.5"/>
<line x1="73.15" y1="243.49" x2="75.35" y2="243.49" stroke="#8fd0f3" stroke-width="0.5"/>
<line x1="73.15" y1="245.50" x2="75.35" y2="245.50" stroke="#8fd0f3" stroke-width="0.5"/>
<line x1="82.65" y1="236.18" x2="82.65" y2="238.85" stroke="#8fd0f3" stroke-width="0.5"/>
<line x1="81.55" y1="236.18" x2="83.75" y2="236.18" stroke="#8fd0f3" stroke-width="0.5"/>
<line x1="81.55" y1="238.85" x2="83.75" y2="238.85" stroke="#8fd0f3" stroke-width="0.5"/>
<line x1="88.25" y1="231.44" x2="88.25" y2="235.44" stroke="#8fd0f3" stroke-width="0.5"/>
<line x1="87.15" y1="231.44" x2="89.35" y2="231.44" stroke="#8fd0f3" stroke-width="0.5"/>
<line x1="87.15" y1="235.44" x2="89.35" y2="235.44" stroke="#8fd0f3" stroke-width="0.5"/>
<line x1="93.85" y1="228.43" x2="93.85" y2="234.44" stroke="#8fd0f3" stroke-width="0.5"/>
<line x1="92.75" y1="228.43" x2="94.95" y2="228.43" stroke="#8fd0f3" stroke-width="0.5"/>
<line x1="92.75" y1="234.44" x2="94.95" y2="234.44" stroke="#8fd0f3" stroke-width="0.5"/>
<line x1="102.25" y1="226.09" x2="102.25" y2="234.11" stroke="#8fd0f3" stroke-width="0.5"/>
<line x1="101.15" y1="226.09" x2="103.35" y2="226.09" stroke="#8fd0f3" stroke-width="0.5"/>
<line x1="101.15" y1="234.11" x2="103.35" y2="234.11" stroke="#8fd0f3" stroke-width="0.5"/>
<line x1="107.85" y1="223.75" x2="107.85" y2="233.77" stroke="#8fd0f3" stroke-width="0.5"/>
<line x1="106.75" y1="223.75" x2="108.95" y2="223.75" stroke="#8fd0f3" stroke-width="0.5"/>
<line x1="106.75" y1="233.77" x2="108.95" y2="233.77" stroke="#8fd0f3" stroke-width="0.5"/>
<line x1="113.45" y1="222.42" x2="113.45" y2="233.77" stroke="#8fd0f3" stroke-width="0.5"/>
<line x1="112.35" y1="222.42" x2="114.55" y2="222.42" stroke="#8fd0f3" stroke-width="0.5"/>
<line x1="112.35" y1="233.77" x2="114.55" y2="233.77" stroke="#8fd0f3" stroke-width="0.5"/>
<line x1="121.85" y1="221.08" x2="121.85" y2="233.77" stroke="#8fd0f3" stroke-width="0.5"/>
<line x1="120.75" y1="221.08" x2="122.95" y2="221.08" stroke="#8fd0f3" stroke-width="0.5"/>
<line x1="120.75" y1="233.77" x2="122.95" y2="233.77" stroke="#8fd0f3" stroke-width="0.5"/>
<line x1="127.45" y1="220.41" x2="127.45" y2="233.77" stroke="#8fd0f3" stroke-width="0.5"/>
<line x1="126.35" y1="220.41" x2="128.55" y2="220.41" stroke="#8fd0f3" stroke-width="0.5"/>
<line x1="126.35" y1="233.77" x2="128.55" y2="233.77" stroke="#8fd0f3" stroke-width="0.5"/>
<line x1="133.05" y1="219.58" x2="133.05" y2="233.27" stroke="#8fd0f3" stroke-width="0.5"/>
<line x1="131.95" y1="219.58" x2="134.15" y2="219.58" stroke="#8fd0f3" stroke-width="0.5"/>
<line x1="131.95" y1="233.27" x2="134.15" y2="233.27" stroke="#8fd0f3" stroke-width="0.5"/>
<polyline points="46.25,257.99 54.65,255.75 63.05,250.74 68.65,248.74 74.25,244.50 82.65,237.51 88.25,233.44 93.85,231.44 102.25,230.10 107.85,228.76 113.45,228.10 121.85,227.43 127.45,227.09 133.05,226.43" fill="none" stroke="#8fd0f3" stroke-width="1.05" stroke-linejoin="round"/>
<polygon points="46.25,259.60 44.83,256.94 47.67,256.94" fill="#8fd0f3"/>
<polygon points="54.65,257.37 53.23,254.71 56.07,254.71" fill="#8fd0f3"/>
<polygon points="63.05,252.36 61.62,249.70 64.47,249.70" fill="#8fd0f3"/>
<polygon points="68.65,250.35 67.23,247.69 70.08,247.69" fill="#8fd0f3"/>
<polygon points="74.25,246.11 72.83,243.45 75.67,243.45" fill="#8fd0f3"/>
<polygon points="82.65,239.13 81.23,236.47 84.08,236.47" fill="#8fd0f3"/>
<polygon points="88.25,235.06 86.83,232.40 89.67,232.40" fill="#8fd0f3"/>
<polygon points="93.85,233.05 92.42,230.39 95.27,230.39" fill="#8fd0f3"/>
<polygon points="102.25,231.72 100.83,229.06 103.67,229.06" fill="#8fd0f3"/>
<polygon points="107.85,230.38 106.42,227.72 109.27,227.72" fill="#8fd0f3"/>
<polygon points="113.45,229.71 112.02,227.05 114.87,227.05" fill="#8fd0f3"/>
<polygon points="121.85,229.04 120.42,226.38 123.27,226.38" fill="#8fd0f3"/>
<polygon points="127.45,228.71 126.02,226.05 128.88,226.05" fill="#8fd0f3"/>
<polygon points="133.05,228.04 131.62,225.38 134.48,225.38" fill="#8fd0f3"/>
<line x1="74.25" y1="243.49" x2="74.25" y2="245.50" stroke="#5b9aa3" stroke-width="0.5"/>
<line x1="73.15" y1="243.49" x2="75.35" y2="243.49" stroke="#5b9aa3" stroke-width="0.5"/>
<line x1="73.15" y1="245.50" x2="75.35" y2="245.50" stroke="#5b9aa3" stroke-width="0.5"/>
<line x1="82.65" y1="236.18" x2="82.65" y2="238.85" stroke="#5b9aa3" stroke-width="0.5"/>
<line x1="81.55" y1="236.18" x2="83.75" y2="236.18" stroke="#5b9aa3" stroke-width="0.5"/>
<line x1="81.55" y1="238.85" x2="83.75" y2="238.85" stroke="#5b9aa3" stroke-width="0.5"/>
<line x1="88.25" y1="231.10" x2="88.25" y2="234.44" stroke="#5b9aa3" stroke-width="0.5"/>
<line x1="87.15" y1="231.10" x2="89.35" y2="231.10" stroke="#5b9aa3" stroke-width="0.5"/>
<line x1="87.15" y1="234.44" x2="89.35" y2="234.44" stroke="#5b9aa3" stroke-width="0.5"/>
<line x1="93.85" y1="227.43" x2="93.85" y2="232.10" stroke="#5b9aa3" stroke-width="0.5"/>
<line x1="92.75" y1="227.43" x2="94.95" y2="227.43" stroke="#5b9aa3" stroke-width="0.5"/>
<line x1="92.75" y1="232.10" x2="94.95" y2="232.10" stroke="#5b9aa3" stroke-width="0.5"/>
<line x1="102.25" y1="223.75" x2="102.25" y2="229.77" stroke="#5b9aa3" stroke-width="0.5"/>
<line x1="101.15" y1="223.75" x2="103.35" y2="223.75" stroke="#5b9aa3" stroke-width="0.5"/>
<line x1="101.15" y1="229.77" x2="103.35" y2="229.77" stroke="#5b9aa3" stroke-width="0.5"/>
<line x1="107.85" y1="220.08" x2="107.85" y2="226.76" stroke="#5b9aa3" stroke-width="0.5"/>
<line x1="106.75" y1="220.08" x2="108.95" y2="220.08" stroke="#5b9aa3" stroke-width="0.5"/>
<line x1="106.75" y1="226.76" x2="108.95" y2="226.76" stroke="#5b9aa3" stroke-width="0.5"/>
<line x1="113.45" y1="215.40" x2="113.45" y2="222.75" stroke="#5b9aa3" stroke-width="0.5"/>
<line x1="112.35" y1="215.40" x2="114.55" y2="215.40" stroke="#5b9aa3" stroke-width="0.5"/>
<line x1="112.35" y1="222.75" x2="114.55" y2="222.75" stroke="#5b9aa3" stroke-width="0.5"/>
<line x1="121.85" y1="209.39" x2="121.85" y2="217.41" stroke="#5b9aa3" stroke-width="0.5"/>
<line x1="120.75" y1="209.39" x2="122.95" y2="209.39" stroke="#5b9aa3" stroke-width="0.5"/>
<line x1="120.75" y1="217.41" x2="122.95" y2="217.41" stroke="#5b9aa3" stroke-width="0.5"/>
<line x1="127.45" y1="204.88" x2="127.45" y2="213.23" stroke="#5b9aa3" stroke-width="0.5"/>
<line x1="126.35" y1="204.88" x2="128.55" y2="204.88" stroke="#5b9aa3" stroke-width="0.5"/>
<line x1="126.35" y1="213.23" x2="128.55" y2="213.23" stroke="#5b9aa3" stroke-width="0.5"/>
<line x1="133.05" y1="200.71" x2="133.05" y2="209.39" stroke="#5b9aa3" stroke-width="0.5"/>
<line x1="131.95" y1="200.71" x2="134.15" y2="200.71" stroke="#5b9aa3" stroke-width="0.5"/>
<line x1="131.95" y1="209.39" x2="134.15" y2="209.39" stroke="#5b9aa3" stroke-width="0.5"/>
<polyline points="46.25,257.99 54.65,255.75 63.05,250.74 68.65,248.74 74.25,244.50 82.65,237.51 88.25,232.77 93.85,229.77 102.25,226.76 107.85,223.42 113.45,219.08 121.85,213.40 127.45,209.06 133.05,205.05" fill="none" stroke="#5b9aa3" stroke-width="1.05" stroke-linejoin="round"/>
<circle cx="46.25" cy="257.99" r="0.87" fill="#fff" stroke="#5b9aa3" stroke-width="1.1"/>
<circle cx="54.65" cy="255.75" r="0.87" fill="#fff" stroke="#5b9aa3" stroke-width="1.1"/>
<circle cx="63.05" cy="250.74" r="0.87" fill="#fff" stroke="#5b9aa3" stroke-width="1.1"/>
<circle cx="68.65" cy="248.74" r="0.87" fill="#fff" stroke="#5b9aa3" stroke-width="1.1"/>
<circle cx="74.25" cy="244.50" r="0.87" fill="#fff" stroke="#5b9aa3" stroke-width="1.1"/>
<circle cx="82.65" cy="237.51" r="0.87" fill="#fff" stroke="#5b9aa3" stroke-width="1.1"/>
<circle cx="88.25" cy="232.77" r="0.87" fill="#fff" stroke="#5b9aa3" stroke-width="1.1"/>
<circle cx="93.85" cy="229.77" r="0.87" fill="#fff" stroke="#5b9aa3" stroke-width="1.1"/>
<circle cx="102.25" cy="226.76" r="0.87" fill="#fff" stroke="#5b9aa3" stroke-width="1.1"/>
<circle cx="107.85" cy="223.42" r="0.87" fill="#fff" stroke="#5b9aa3" stroke-width="1.1"/>
<circle cx="113.45" cy="219.08" r="0.87" fill="#fff" stroke="#5b9aa3" stroke-width="1.1"/>
<circle cx="121.85" cy="213.40" r="0.87" fill="#fff" stroke="#5b9aa3" stroke-width="1.1"/>
<circle cx="127.45" cy="209.06" r="0.87" fill="#fff" stroke="#5b9aa3" stroke-width="1.1"/>
<circle cx="133.05" cy="205.05" r="0.87" fill="#fff" stroke="#5b9aa3" stroke-width="1.1"/>
<line x1="74.25" y1="243.49" x2="74.25" y2="245.50" stroke="#2f55a4" stroke-width="0.5"/>
<line x1="73.15" y1="243.49" x2="75.35" y2="243.49" stroke="#2f55a4" stroke-width="0.5"/>
<line x1="73.15" y1="245.50" x2="75.35" y2="245.50" stroke="#2f55a4" stroke-width="0.5"/>
<line x1="82.65" y1="236.18" x2="82.65" y2="238.85" stroke="#2f55a4" stroke-width="0.5"/>
<line x1="81.55" y1="236.18" x2="83.75" y2="236.18" stroke="#2f55a4" stroke-width="0.5"/>
<line x1="81.55" y1="238.85" x2="83.75" y2="238.85" stroke="#2f55a4" stroke-width="0.5"/>
<line x1="88.25" y1="230.94" x2="88.25" y2="234.28" stroke="#2f55a4" stroke-width="0.5"/>
<line x1="87.15" y1="230.94" x2="89.35" y2="230.94" stroke="#2f55a4" stroke-width="0.5"/>
<line x1="87.15" y1="234.28" x2="89.35" y2="234.28" stroke="#2f55a4" stroke-width="0.5"/>
<line x1="93.85" y1="227.09" x2="93.85" y2="231.77" stroke="#2f55a4" stroke-width="0.5"/>
<line x1="92.75" y1="227.09" x2="94.95" y2="227.09" stroke="#2f55a4" stroke-width="0.5"/>
<line x1="92.75" y1="231.77" x2="94.95" y2="231.77" stroke="#2f55a4" stroke-width="0.5"/>
<line x1="102.25" y1="224.09" x2="102.25" y2="230.10" stroke="#2f55a4" stroke-width="0.5"/>
<line x1="101.15" y1="224.09" x2="103.35" y2="224.09" stroke="#2f55a4" stroke-width="0.5"/>
<line x1="101.15" y1="230.10" x2="103.35" y2="230.10" stroke="#2f55a4" stroke-width="0.5"/>
<line x1="107.85" y1="220.41" x2="107.85" y2="227.09" stroke="#2f55a4" stroke-width="0.5"/>
<line x1="106.75" y1="220.41" x2="108.95" y2="220.41" stroke="#2f55a4" stroke-width="0.5"/>
<line x1="106.75" y1="227.09" x2="108.95" y2="227.09" stroke="#2f55a4" stroke-width="0.5"/>
<line x1="113.45" y1="215.74" x2="113.45" y2="223.09" stroke="#2f55a4" stroke-width="0.5"/>
<line x1="112.35" y1="215.74" x2="114.55" y2="215.74" stroke="#2f55a4" stroke-width="0.5"/>
<line x1="112.35" y1="223.09" x2="114.55" y2="223.09" stroke="#2f55a4" stroke-width="0.5"/>
<line x1="121.85" y1="210.23" x2="121.85" y2="217.91" stroke="#2f55a4" stroke-width="0.5"/>
<line x1="120.75" y1="210.23" x2="122.95" y2="210.23" stroke="#2f55a4" stroke-width="0.5"/>
<line x1="120.75" y1="217.91" x2="122.95" y2="217.91" stroke="#2f55a4" stroke-width="0.5"/>
<line x1="127.45" y1="204.72" x2="127.45" y2="212.73" stroke="#2f55a4" stroke-width="0.5"/>
<line x1="126.35" y1="204.72" x2="128.55" y2="204.72" stroke="#2f55a4" stroke-width="0.5"/>
<line x1="126.35" y1="212.73" x2="128.55" y2="212.73" stroke="#2f55a4" stroke-width="0.5"/>
<line x1="133.05" y1="200.21" x2="133.05" y2="208.22" stroke="#2f55a4" stroke-width="0.5"/>
<line x1="131.95" y1="200.21" x2="134.15" y2="200.21" stroke="#2f55a4" stroke-width="0.5"/>
<line x1="131.95" y1="208.22" x2="134.15" y2="208.22" stroke="#2f55a4" stroke-width="0.5"/>
<polyline points="46.25,257.99 54.65,255.75 63.05,250.74 68.65,248.74 74.25,244.50 82.65,237.51 88.25,232.60 93.85,229.43 102.25,227.09 107.85,223.75 113.45,219.41 121.85,214.07 127.45,208.72 133.05,204.22" fill="none" stroke="#2f55a4" stroke-width="1.05" stroke-linejoin="round"/>
<rect x="45.41" y="257.15" width="1.68" height="1.68" fill="#fff" stroke="#2f55a4" stroke-width="1.1"/>
<rect x="53.81" y="254.91" width="1.68" height="1.68" fill="#fff" stroke="#2f55a4" stroke-width="1.1"/>
<rect x="62.21" y="249.90" width="1.68" height="1.68" fill="#fff" stroke="#2f55a4" stroke-width="1.1"/>
<rect x="67.81" y="247.90" width="1.68" height="1.68" fill="#fff" stroke="#2f55a4" stroke-width="1.1"/>
<rect x="73.41" y="243.66" width="1.68" height="1.68" fill="#fff" stroke="#2f55a4" stroke-width="1.1"/>
<rect x="81.81" y="236.67" width="1.68" height="1.68" fill="#fff" stroke="#2f55a4" stroke-width="1.1"/>
<rect x="87.41" y="231.76" width="1.68" height="1.68" fill="#fff" stroke="#2f55a4" stroke-width="1.1"/>
<rect x="93.01" y="228.59" width="1.68" height="1.68" fill="#fff" stroke="#2f55a4" stroke-width="1.1"/>
<rect x="101.41" y="226.25" width="1.68" height="1.68" fill="#fff" stroke="#2f55a4" stroke-width="1.1"/>
<rect x="107.01" y="222.91" width="1.68" height="1.68" fill="#fff" stroke="#2f55a4" stroke-width="1.1"/>
<rect x="112.61" y="218.57" width="1.68" height="1.68" fill="#fff" stroke="#2f55a4" stroke-width="1.1"/>
<rect x="121.01" y="213.23" width="1.68" height="1.68" fill="#fff" stroke="#2f55a4" stroke-width="1.1"/>
<rect x="126.61" y="207.88" width="1.68" height="1.68" fill="#fff" stroke="#2f55a4" stroke-width="1.1"/>
<rect x="132.21" y="203.38" width="1.68" height="1.68" fill="#fff" stroke="#2f55a4" stroke-width="1.1"/>
<line x1="74.25" y1="243.49" x2="74.25" y2="245.50" stroke="#7fc06a" stroke-width="0.5"/>
<line x1="73.15" y1="243.49" x2="75.35" y2="243.49" stroke="#7fc06a" stroke-width="0.5"/>
<line x1="73.15" y1="245.50" x2="75.35" y2="245.50" stroke="#7fc06a" stroke-width="0.5"/>
<line x1="82.65" y1="236.18" x2="82.65" y2="238.85" stroke="#7fc06a" stroke-width="0.5"/>
<line x1="81.55" y1="236.18" x2="83.75" y2="236.18" stroke="#7fc06a" stroke-width="0.5"/>
<line x1="81.55" y1="238.85" x2="83.75" y2="238.85" stroke="#7fc06a" stroke-width="0.5"/>
<line x1="88.25" y1="230.77" x2="88.25" y2="234.11" stroke="#7fc06a" stroke-width="0.5"/>
<line x1="87.15" y1="230.77" x2="89.35" y2="230.77" stroke="#7fc06a" stroke-width="0.5"/>
<line x1="87.15" y1="234.11" x2="89.35" y2="234.11" stroke="#7fc06a" stroke-width="0.5"/>
<line x1="93.85" y1="226.76" x2="93.85" y2="231.44" stroke="#7fc06a" stroke-width="0.5"/>
<line x1="92.75" y1="226.76" x2="94.95" y2="226.76" stroke="#7fc06a" stroke-width="0.5"/>
<line x1="92.75" y1="231.44" x2="94.95" y2="231.44" stroke="#7fc06a" stroke-width="0.5"/>
<line x1="102.25" y1="222.42" x2="102.25" y2="228.43" stroke="#7fc06a" stroke-width="0.5"/>
<line x1="101.15" y1="222.42" x2="103.35" y2="222.42" stroke="#7fc06a" stroke-width="0.5"/>
<line x1="101.15" y1="228.43" x2="103.35" y2="228.43" stroke="#7fc06a" stroke-width="0.5"/>
<line x1="107.85" y1="217.74" x2="107.85" y2="224.42" stroke="#7fc06a" stroke-width="0.5"/>
<line x1="106.75" y1="217.74" x2="108.95" y2="217.74" stroke="#7fc06a" stroke-width="0.5"/>
<line x1="106.75" y1="224.42" x2="108.95" y2="224.42" stroke="#7fc06a" stroke-width="0.5"/>
<line x1="113.45" y1="212.40" x2="113.45" y2="219.75" stroke="#7fc06a" stroke-width="0.5"/>
<line x1="112.35" y1="212.40" x2="114.55" y2="212.40" stroke="#7fc06a" stroke-width="0.5"/>
<line x1="112.35" y1="219.75" x2="114.55" y2="219.75" stroke="#7fc06a" stroke-width="0.5"/>
<line x1="121.85" y1="204.38" x2="121.85" y2="212.40" stroke="#7fc06a" stroke-width="0.5"/>
<line x1="120.75" y1="204.38" x2="122.95" y2="204.38" stroke="#7fc06a" stroke-width="0.5"/>
<line x1="120.75" y1="212.40" x2="122.95" y2="212.40" stroke="#7fc06a" stroke-width="0.5"/>
<line x1="127.45" y1="197.87" x2="127.45" y2="206.22" stroke="#7fc06a" stroke-width="0.5"/>
<line x1="126.35" y1="197.87" x2="128.55" y2="197.87" stroke="#7fc06a" stroke-width="0.5"/>
<line x1="126.35" y1="206.22" x2="128.55" y2="206.22" stroke="#7fc06a" stroke-width="0.5"/>
<line x1="133.05" y1="191.36" x2="133.05" y2="199.71" stroke="#7fc06a" stroke-width="0.5"/>
<line x1="131.95" y1="191.36" x2="134.15" y2="191.36" stroke="#7fc06a" stroke-width="0.5"/>
<line x1="131.95" y1="199.71" x2="134.15" y2="199.71" stroke="#7fc06a" stroke-width="0.5"/>
<polyline points="46.25,257.99 54.65,255.75 63.05,250.74 68.65,248.74 74.25,244.50 82.65,237.51 88.25,232.44 93.85,229.10 102.25,225.42 107.85,221.08 113.45,216.07 121.85,208.39 127.45,202.04 133.05,195.53" fill="none" stroke="#7fc06a" stroke-width="1.05" stroke-linejoin="round"/>
<circle cx="46.25" cy="257.99" r="1.3299999999999998" fill="#7fc06a" stroke="none" stroke-width="0"/>
<circle cx="54.65" cy="255.75" r="1.3299999999999998" fill="#7fc06a" stroke="none" stroke-width="0"/>
<circle cx="63.05" cy="250.74" r="1.3299999999999998" fill="#7fc06a" stroke="none" stroke-width="0"/>
<circle cx="68.65" cy="248.74" r="1.3299999999999998" fill="#7fc06a" stroke="none" stroke-width="0"/>
<circle cx="74.25" cy="244.50" r="1.3299999999999998" fill="#7fc06a" stroke="none" stroke-width="0"/>
<circle cx="82.65" cy="237.51" r="1.3299999999999998" fill="#7fc06a" stroke="none" stroke-width="0"/>
<circle cx="88.25" cy="232.44" r="1.3299999999999998" fill="#7fc06a" stroke="none" stroke-width="0"/>
<circle cx="93.85" cy="229.10" r="1.3299999999999998" fill="#7fc06a" stroke="none" stroke-width="0"/>
<circle cx="102.25" cy="225.42" r="1.3299999999999998" fill="#7fc06a" stroke="none" stroke-width="0"/>
<circle cx="107.85" cy="221.08" r="1.3299999999999998" fill="#7fc06a" stroke="none" stroke-width="0"/>
<circle cx="113.45" cy="216.07" r="1.3299999999999998" fill="#7fc06a" stroke="none" stroke-width="0"/>
<circle cx="121.85" cy="208.39" r="1.3299999999999998" fill="#7fc06a" stroke="none" stroke-width="0"/>
<circle cx="127.45" cy="202.04" r="1.3299999999999998" fill="#7fc06a" stroke="none" stroke-width="0"/>
<circle cx="133.05" cy="195.53" r="1.3299999999999998" fill="#7fc06a" stroke="none" stroke-width="0"/>
<line x1="74.25" y1="243.49" x2="74.25" y2="245.50" stroke="#6b2c91" stroke-width="0.5"/>
<line x1="73.15" y1="243.49" x2="75.35" y2="243.49" stroke="#6b2c91" stroke-width="0.5"/>
<line x1="73.15" y1="245.50" x2="75.35" y2="245.50" stroke="#6b2c91" stroke-width="0.5"/>
<line x1="82.65" y1="240.12" x2="82.65" y2="242.46" stroke="#6b2c91" stroke-width="0.5"/>
<line x1="81.55" y1="240.12" x2="83.75" y2="240.12" stroke="#6b2c91" stroke-width="0.5"/>
<line x1="81.55" y1="242.46" x2="83.75" y2="242.46" stroke="#6b2c91" stroke-width="0.5"/>
<line x1="88.25" y1="237.51" x2="88.25" y2="240.19" stroke="#6b2c91" stroke-width="0.5"/>
<line x1="87.15" y1="237.51" x2="89.35" y2="237.51" stroke="#6b2c91" stroke-width="0.5"/>
<line x1="87.15" y1="240.19" x2="89.35" y2="240.19" stroke="#6b2c91" stroke-width="0.5"/>
<line x1="93.85" y1="235.78" x2="93.85" y2="239.12" stroke="#6b2c91" stroke-width="0.5"/>
<line x1="92.75" y1="235.78" x2="94.95" y2="235.78" stroke="#6b2c91" stroke-width="0.5"/>
<line x1="92.75" y1="239.12" x2="94.95" y2="239.12" stroke="#6b2c91" stroke-width="0.5"/>
<line x1="102.25" y1="236.25" x2="102.25" y2="240.25" stroke="#6b2c91" stroke-width="0.5"/>
<line x1="101.15" y1="236.25" x2="103.35" y2="236.25" stroke="#6b2c91" stroke-width="0.5"/>
<line x1="101.15" y1="240.25" x2="103.35" y2="240.25" stroke="#6b2c91" stroke-width="0.5"/>
<line x1="107.85" y1="239.25" x2="107.85" y2="243.26" stroke="#6b2c91" stroke-width="0.5"/>
<line x1="106.75" y1="239.25" x2="108.95" y2="239.25" stroke="#6b2c91" stroke-width="0.5"/>
<line x1="106.75" y1="243.26" x2="108.95" y2="243.26" stroke="#6b2c91" stroke-width="0.5"/>
<line x1="113.45" y1="241.46" x2="113.45" y2="245.46" stroke="#6b2c91" stroke-width="0.5"/>
<line x1="112.35" y1="241.46" x2="114.55" y2="241.46" stroke="#6b2c91" stroke-width="0.5"/>
<line x1="112.35" y1="245.46" x2="114.55" y2="245.46" stroke="#6b2c91" stroke-width="0.5"/>
<line x1="121.85" y1="243.46" x2="121.85" y2="247.47" stroke="#6b2c91" stroke-width="0.5"/>
<line x1="120.75" y1="243.46" x2="122.95" y2="243.46" stroke="#6b2c91" stroke-width="0.5"/>
<line x1="120.75" y1="247.47" x2="122.95" y2="247.47" stroke="#6b2c91" stroke-width="0.5"/>
<line x1="127.45" y1="245.46" x2="127.45" y2="249.47" stroke="#6b2c91" stroke-width="0.5"/>
<line x1="126.35" y1="245.46" x2="128.55" y2="245.46" stroke="#6b2c91" stroke-width="0.5"/>
<line x1="126.35" y1="249.47" x2="128.55" y2="249.47" stroke="#6b2c91" stroke-width="0.5"/>
<line x1="133.05" y1="247.07" x2="133.05" y2="251.41" stroke="#6b2c91" stroke-width="0.5"/>
<line x1="131.95" y1="247.07" x2="134.15" y2="247.07" stroke="#6b2c91" stroke-width="0.5"/>
<line x1="131.95" y1="251.41" x2="134.15" y2="251.41" stroke="#6b2c91" stroke-width="0.5"/>
<line x1="141.45" y1="247.90" x2="141.45" y2="252.58" stroke="#6b2c91" stroke-width="0.5"/>
<line x1="140.35" y1="247.90" x2="142.55" y2="247.90" stroke="#6b2c91" stroke-width="0.5"/>
<line x1="140.35" y1="252.58" x2="142.55" y2="252.58" stroke="#6b2c91" stroke-width="0.5"/>
<line x1="147.05" y1="247.57" x2="147.05" y2="252.91" stroke="#6b2c91" stroke-width="0.5"/>
<line x1="145.95" y1="247.57" x2="148.15" y2="247.57" stroke="#6b2c91" stroke-width="0.5"/>
<line x1="145.95" y1="252.91" x2="148.15" y2="252.91" stroke="#6b2c91" stroke-width="0.5"/>
<line x1="152.65" y1="244.90" x2="152.65" y2="251.58" stroke="#6b2c91" stroke-width="0.5"/>
<line x1="151.55" y1="244.90" x2="153.75" y2="244.90" stroke="#6b2c91" stroke-width="0.5"/>
<line x1="151.55" y1="251.58" x2="153.75" y2="251.58" stroke="#6b2c91" stroke-width="0.5"/>
<line x1="161.05" y1="242.59" x2="161.05" y2="249.94" stroke="#6b2c91" stroke-width="0.5"/>
<line x1="159.95" y1="242.59" x2="162.15" y2="242.59" stroke="#6b2c91" stroke-width="0.5"/>
<line x1="159.95" y1="249.94" x2="162.15" y2="249.94" stroke="#6b2c91" stroke-width="0.5"/>
<line x1="166.65" y1="240.49" x2="166.65" y2="248.50" stroke="#6b2c91" stroke-width="0.5"/>
<line x1="165.55" y1="240.49" x2="167.75" y2="240.49" stroke="#6b2c91" stroke-width="0.5"/>
<line x1="165.55" y1="248.50" x2="167.75" y2="248.50" stroke="#6b2c91" stroke-width="0.5"/>
<line x1="172.25" y1="238.65" x2="172.25" y2="247.33" stroke="#6b2c91" stroke-width="0.5"/>
<line x1="171.15" y1="238.65" x2="173.35" y2="238.65" stroke="#6b2c91" stroke-width="0.5"/>
<line x1="171.15" y1="247.33" x2="173.35" y2="247.33" stroke="#6b2c91" stroke-width="0.5"/>
<line x1="180.65" y1="237.08" x2="180.65" y2="246.43" stroke="#6b2c91" stroke-width="0.5"/>
<line x1="179.55" y1="237.08" x2="181.75" y2="237.08" stroke="#6b2c91" stroke-width="0.5"/>
<line x1="179.55" y1="246.43" x2="181.75" y2="246.43" stroke="#6b2c91" stroke-width="0.5"/>
<line x1="186.25" y1="234.98" x2="186.25" y2="245.00" stroke="#6b2c91" stroke-width="0.5"/>
<line x1="185.15" y1="234.98" x2="187.35" y2="234.98" stroke="#6b2c91" stroke-width="0.5"/>
<line x1="185.15" y1="245.00" x2="187.35" y2="245.00" stroke="#6b2c91" stroke-width="0.5"/>
<line x1="191.85" y1="233.17" x2="191.85" y2="243.86" stroke="#6b2c91" stroke-width="0.5"/>
<line x1="190.75" y1="233.17" x2="192.95" y2="233.17" stroke="#6b2c91" stroke-width="0.5"/>
<line x1="190.75" y1="243.86" x2="192.95" y2="243.86" stroke="#6b2c91" stroke-width="0.5"/>
<line x1="200.25" y1="232.07" x2="200.25" y2="243.43" stroke="#6b2c91" stroke-width="0.5"/>
<line x1="199.15" y1="232.07" x2="201.35" y2="232.07" stroke="#6b2c91" stroke-width="0.5"/>
<line x1="199.15" y1="243.43" x2="201.35" y2="243.43" stroke="#6b2c91" stroke-width="0.5"/>
<polyline points="46.25,257.99 54.65,255.75 63.05,250.74 68.65,248.74 74.25,244.50 82.65,241.29 88.25,238.85 93.85,237.45 102.25,238.25 107.85,241.26 113.45,243.46 121.85,245.46 127.45,247.47 133.05,249.24 141.45,250.24 147.05,250.24 152.65,248.24 161.05,246.27 166.65,244.50 172.25,242.99 180.65,241.76 186.25,239.99 191.85,238.52 200.25,237.75" fill="none" stroke="#6b2c91" stroke-width="1.05" stroke-linejoin="round"/>
<polygon points="46.25,256.37 44.83,259.03 47.67,259.03" fill="#6b2c91"/>
<polygon points="54.65,254.14 53.23,256.80 56.07,256.80" fill="#6b2c91"/>
<polygon points="63.05,249.13 61.62,251.79 64.47,251.79" fill="#6b2c91"/>
<polygon points="68.65,247.12 67.23,249.78 70.08,249.78" fill="#6b2c91"/>
<polygon points="74.25,242.88 72.83,245.54 75.67,245.54" fill="#6b2c91"/>
<polygon points="82.65,239.67 81.23,242.33 84.08,242.33" fill="#6b2c91"/>
<polygon points="88.25,237.24 86.83,239.90 89.67,239.90" fill="#6b2c91"/>
<polygon points="93.85,235.83 92.42,238.49 95.27,238.49" fill="#6b2c91"/>
<polygon points="102.25,236.63 100.83,239.29 103.67,239.29" fill="#6b2c91"/>
<polygon points="107.85,239.64 106.42,242.30 109.27,242.30" fill="#6b2c91"/>
<polygon points="113.45,241.84 112.02,244.50 114.87,244.50" fill="#6b2c91"/>
<polygon points="121.85,243.85 120.42,246.51 123.27,246.51" fill="#6b2c91"/>
<polygon points="127.45,245.85 126.02,248.51 128.88,248.51" fill="#6b2c91"/>
<polygon points="133.05,247.62 131.62,250.28 134.48,250.28" fill="#6b2c91"/>
<polygon points="141.45,248.63 140.02,251.29 142.88,251.29" fill="#6b2c91"/>
<polygon points="147.05,248.63 145.62,251.29 148.48,251.29" fill="#6b2c91"/>
<polygon points="152.65,246.62 151.22,249.28 154.07,249.28" fill="#6b2c91"/>
<polygon points="161.05,244.65 159.62,247.31 162.48,247.31" fill="#6b2c91"/>
<polygon points="166.65,242.88 165.22,245.54 168.07,245.54" fill="#6b2c91"/>
<polygon points="172.25,241.38 170.82,244.04 173.68,244.04" fill="#6b2c91"/>
<polygon points="180.65,240.14 179.22,242.80 182.07,242.80" fill="#6b2c91"/>
<polygon points="186.25,238.37 184.82,241.03 187.68,241.03" fill="#6b2c91"/>
<polygon points="191.85,236.90 190.42,239.56 193.28,239.56" fill="#6b2c91"/>
<polygon points="200.25,236.13 198.82,238.79 201.68,238.79" fill="#6b2c91"/>
<line x1="74.25" y1="243.49" x2="74.25" y2="245.50" stroke="#d95f27" stroke-width="0.5"/>
<line x1="73.15" y1="243.49" x2="75.35" y2="243.49" stroke="#d95f27" stroke-width="0.5"/>
<line x1="73.15" y1="245.50" x2="75.35" y2="245.50" stroke="#d95f27" stroke-width="0.5"/>
<line x1="82.65" y1="240.29" x2="82.65" y2="242.62" stroke="#d95f27" stroke-width="0.5"/>
<line x1="81.55" y1="240.29" x2="83.75" y2="240.29" stroke="#d95f27" stroke-width="0.5"/>
<line x1="81.55" y1="242.62" x2="83.75" y2="242.62" stroke="#d95f27" stroke-width="0.5"/>
<line x1="88.25" y1="237.78" x2="88.25" y2="240.45" stroke="#d95f27" stroke-width="0.5"/>
<line x1="87.15" y1="237.78" x2="89.35" y2="237.78" stroke="#d95f27" stroke-width="0.5"/>
<line x1="87.15" y1="240.45" x2="89.35" y2="240.45" stroke="#d95f27" stroke-width="0.5"/>
<line x1="93.85" y1="236.61" x2="93.85" y2="239.62" stroke="#d95f27" stroke-width="0.5"/>
<line x1="92.75" y1="236.61" x2="94.95" y2="236.61" stroke="#d95f27" stroke-width="0.5"/>
<line x1="92.75" y1="239.62" x2="94.95" y2="239.62" stroke="#d95f27" stroke-width="0.5"/>
<line x1="102.25" y1="238.45" x2="102.25" y2="241.79" stroke="#d95f27" stroke-width="0.5"/>
<line x1="101.15" y1="238.45" x2="103.35" y2="238.45" stroke="#d95f27" stroke-width="0.5"/>
<line x1="101.15" y1="241.79" x2="103.35" y2="241.79" stroke="#d95f27" stroke-width="0.5"/>
<line x1="107.85" y1="242.12" x2="107.85" y2="245.46" stroke="#d95f27" stroke-width="0.5"/>
<line x1="106.75" y1="242.12" x2="108.95" y2="242.12" stroke="#d95f27" stroke-width="0.5"/>
<line x1="106.75" y1="245.46" x2="108.95" y2="245.46" stroke="#d95f27" stroke-width="0.5"/>
<line x1="113.45" y1="245.80" x2="113.45" y2="249.14" stroke="#d95f27" stroke-width="0.5"/>
<line x1="112.35" y1="245.80" x2="114.55" y2="245.80" stroke="#d95f27" stroke-width="0.5"/>
<line x1="112.35" y1="249.14" x2="114.55" y2="249.14" stroke="#d95f27" stroke-width="0.5"/>
<line x1="121.85" y1="248.47" x2="121.85" y2="251.81" stroke="#d95f27" stroke-width="0.5"/>
<line x1="120.75" y1="248.47" x2="122.95" y2="248.47" stroke="#d95f27" stroke-width="0.5"/>
<line x1="120.75" y1="251.81" x2="122.95" y2="251.81" stroke="#d95f27" stroke-width="0.5"/>
<line x1="127.45" y1="252.48" x2="127.45" y2="255.15" stroke="#d95f27" stroke-width="0.5"/>
<line x1="126.35" y1="252.48" x2="128.55" y2="252.48" stroke="#d95f27" stroke-width="0.5"/>
<line x1="126.35" y1="255.15" x2="128.55" y2="255.15" stroke="#d95f27" stroke-width="0.5"/>
<line x1="133.05" y1="255.82" x2="133.05" y2="257.82" stroke="#d95f27" stroke-width="0.5"/>
<line x1="131.95" y1="255.82" x2="134.15" y2="255.82" stroke="#d95f27" stroke-width="0.5"/>
<line x1="131.95" y1="257.82" x2="134.15" y2="257.82" stroke="#d95f27" stroke-width="0.5"/>
<polyline points="46.25,257.99 54.65,255.75 63.05,250.74 68.65,248.74 74.25,244.50 82.65,241.46 88.25,239.12 93.85,238.12 102.25,240.12 107.85,243.79 113.45,247.47 121.85,250.14 127.45,253.81 133.05,256.82 141.45,258.49 147.05,259.32 152.65,259.83 161.05,260.33 166.65,260.66 172.25,260.83 180.65,261.00 186.25,260.83 191.85,260.49 200.25,259.99" fill="none" stroke="#d95f27" stroke-width="1.05" stroke-linejoin="round"/>
<rect x="45.02" y="256.75" width="2.47" height="2.47" fill="#d95f27"/>
<rect x="53.41" y="254.52" width="2.47" height="2.47" fill="#d95f27"/>
<rect x="61.81" y="249.51" width="2.47" height="2.47" fill="#d95f27"/>
<rect x="67.42" y="247.50" width="2.47" height="2.47" fill="#d95f27"/>
<rect x="73.02" y="243.26" width="2.47" height="2.47" fill="#d95f27"/>
<rect x="81.42" y="240.22" width="2.47" height="2.47" fill="#d95f27"/>
<rect x="87.02" y="237.88" width="2.47" height="2.47" fill="#d95f27"/>
<rect x="92.61" y="236.88" width="2.47" height="2.47" fill="#d95f27"/>
<rect x="101.02" y="238.88" width="2.47" height="2.47" fill="#d95f27"/>
<rect x="106.61" y="242.56" width="2.47" height="2.47" fill="#d95f27"/>
<rect x="112.21" y="246.23" width="2.47" height="2.47" fill="#d95f27"/>
<rect x="120.61" y="248.90" width="2.47" height="2.47" fill="#d95f27"/>
<rect x="126.21" y="252.58" width="2.47" height="2.47" fill="#d95f27"/>
<rect x="131.81" y="255.58" width="2.47" height="2.47" fill="#d95f27"/>
<rect x="140.21" y="257.25" width="2.47" height="2.47" fill="#d95f27"/>
<rect x="145.81" y="258.09" width="2.47" height="2.47" fill="#d95f27"/>
<rect x="151.41" y="258.59" width="2.47" height="2.47" fill="#d95f27"/>
<rect x="159.81" y="259.09" width="2.47" height="2.47" fill="#d95f27"/>
<rect x="165.41" y="259.43" width="2.47" height="2.47" fill="#d95f27"/>
<rect x="171.01" y="259.59" width="2.47" height="2.47" fill="#d95f27"/>
<rect x="179.41" y="259.76" width="2.47" height="2.47" fill="#d95f27"/>
<rect x="185.01" y="259.59" width="2.47" height="2.47" fill="#d95f27"/>
<rect x="190.61" y="259.26" width="2.47" height="2.47" fill="#d95f27"/>
<rect x="199.01" y="258.76" width="2.47" height="2.47" fill="#d95f27"/>
<line x1="74.25" y1="243.49" x2="74.25" y2="245.50" stroke="#000000" stroke-width="0.5"/>
<line x1="73.15" y1="243.49" x2="75.35" y2="243.49" stroke="#000000" stroke-width="0.5"/>
<line x1="73.15" y1="245.50" x2="75.35" y2="245.50" stroke="#000000" stroke-width="0.5"/>
<line x1="82.65" y1="236.18" x2="82.65" y2="238.85" stroke="#000000" stroke-width="0.5"/>
<line x1="81.55" y1="236.18" x2="83.75" y2="236.18" stroke="#000000" stroke-width="0.5"/>
<line x1="81.55" y1="238.85" x2="83.75" y2="238.85" stroke="#000000" stroke-width="0.5"/>
<line x1="88.25" y1="231.00" x2="88.25" y2="234.01" stroke="#000000" stroke-width="0.5"/>
<line x1="87.15" y1="231.00" x2="89.35" y2="231.00" stroke="#000000" stroke-width="0.5"/>
<line x1="87.15" y1="234.01" x2="89.35" y2="234.01" stroke="#000000" stroke-width="0.5"/>
<line x1="93.85" y1="224.59" x2="93.85" y2="227.93" stroke="#000000" stroke-width="0.5"/>
<line x1="92.75" y1="224.59" x2="94.95" y2="224.59" stroke="#000000" stroke-width="0.5"/>
<line x1="92.75" y1="227.93" x2="94.95" y2="227.93" stroke="#000000" stroke-width="0.5"/>
<line x1="102.25" y1="216.17" x2="102.25" y2="219.85" stroke="#000000" stroke-width="0.5"/>
<line x1="101.15" y1="216.17" x2="103.35" y2="216.17" stroke="#000000" stroke-width="0.5"/>
<line x1="101.15" y1="219.85" x2="103.35" y2="219.85" stroke="#000000" stroke-width="0.5"/>
<line x1="107.85" y1="207.99" x2="107.85" y2="212.00" stroke="#000000" stroke-width="0.5"/>
<line x1="106.75" y1="207.99" x2="108.95" y2="207.99" stroke="#000000" stroke-width="0.5"/>
<line x1="106.75" y1="212.00" x2="108.95" y2="212.00" stroke="#000000" stroke-width="0.5"/>
<line x1="113.45" y1="199.17" x2="113.45" y2="203.85" stroke="#000000" stroke-width="0.5"/>
<line x1="112.35" y1="199.17" x2="114.55" y2="199.17" stroke="#000000" stroke-width="0.5"/>
<line x1="112.35" y1="203.85" x2="114.55" y2="203.85" stroke="#000000" stroke-width="0.5"/>
<line x1="121.85" y1="181.00" x2="121.85" y2="189.02" stroke="#000000" stroke-width="0.5"/>
<line x1="120.75" y1="181.00" x2="122.95" y2="181.00" stroke="#000000" stroke-width="0.5"/>
<line x1="120.75" y1="189.02" x2="122.95" y2="189.02" stroke="#000000" stroke-width="0.5"/>
<polyline points="46.25,257.99 54.65,255.75 63.05,250.74 68.65,248.74 74.25,244.50 82.65,237.51 88.25,232.50 93.85,226.26 102.25,218.01 107.85,209.99 113.45,201.51 121.85,185.01" fill="none" stroke="#000000" stroke-width="1.05" stroke-linejoin="round"/>
<circle cx="46.25" cy="257.99" r="1.47" fill="#000000" stroke="none" stroke-width="0"/>
<circle cx="54.65" cy="255.75" r="1.47" fill="#000000" stroke="none" stroke-width="0"/>
<circle cx="63.05" cy="250.74" r="1.47" fill="#000000" stroke="none" stroke-width="0"/>
<circle cx="68.65" cy="248.74" r="1.47" fill="#000000" stroke="none" stroke-width="0"/>
<circle cx="74.25" cy="244.50" r="1.47" fill="#000000" stroke="none" stroke-width="0"/>
<circle cx="82.65" cy="237.51" r="1.47" fill="#000000" stroke="none" stroke-width="0"/>
<circle cx="88.25" cy="232.50" r="1.47" fill="#000000" stroke="none" stroke-width="0"/>
<circle cx="93.85" cy="226.26" r="1.47" fill="#000000" stroke="none" stroke-width="0"/>
<circle cx="102.25" cy="218.01" r="1.47" fill="#000000" stroke="none" stroke-width="0"/>
<circle cx="107.85" cy="209.99" r="1.47" fill="#000000" stroke="none" stroke-width="0"/>
<circle cx="113.45" cy="201.51" r="1.47" fill="#000000" stroke="none" stroke-width="0"/>
<circle cx="121.85" cy="185.01" r="1.47" fill="#000000" stroke="none" stroke-width="0"/>
<line x1="46.25" y1="179.70" x2="46.25" y2="263.90" stroke="#3a3a3a" stroke-width="0.85"/>
<line x1="45.85" y1="263.50" x2="200.70" y2="263.50" stroke="#3a3a3a" stroke-width="0.85"/>
<line x1="43.25" y1="263.50" x2="46.25" y2="263.50" stroke="#333" stroke-width="0.8"/>
<text x="42.65" y="265.70" font-size="7.5" text-anchor="end" fill="#0a0a0a" stroke="#0a0a0a" stroke-width="0.18">0</text>
<line x1="43.25" y1="246.80" x2="46.25" y2="246.80" stroke="#333" stroke-width="0.8"/>
<text x="42.65" y="249.00" font-size="7.5" text-anchor="end" fill="#0a0a0a" stroke="#0a0a0a" stroke-width="0.18">500</text>
<line x1="43.25" y1="230.10" x2="46.25" y2="230.10" stroke="#333" stroke-width="0.8"/>
<text x="42.65" y="232.30" font-size="7.5" text-anchor="end" fill="#0a0a0a" stroke="#0a0a0a" stroke-width="0.18">1,000</text>
<line x1="43.25" y1="213.40" x2="46.25" y2="213.40" stroke="#333" stroke-width="0.8"/>
<text x="42.65" y="215.60" font-size="7.5" text-anchor="end" fill="#0a0a0a" stroke="#0a0a0a" stroke-width="0.18">1,500</text>
<line x1="43.25" y1="196.70" x2="46.25" y2="196.70" stroke="#333" stroke-width="0.8"/>
<text x="42.65" y="198.90" font-size="7.5" text-anchor="end" fill="#0a0a0a" stroke="#0a0a0a" stroke-width="0.18">2,000</text>
<line x1="43.25" y1="180.00" x2="46.25" y2="180.00" stroke="#333" stroke-width="0.8"/>
<text x="42.65" y="182.20" font-size="7.5" text-anchor="end" fill="#0a0a0a" stroke="#0a0a0a" stroke-width="0.18">2,500</text>
<line x1="46.25" y1="263.50" x2="46.25" y2="266.10" stroke="#333" stroke-width="0.8"/>
<text x="46.25" y="273.00" font-size="7.6" text-anchor="middle" fill="#0a0a0a" stroke="#0a0a0a" stroke-width="0.18">0</text>
<line x1="60.25" y1="263.50" x2="60.25" y2="266.10" stroke="#333" stroke-width="0.8"/>
<text x="60.25" y="273.00" font-size="7.6" text-anchor="middle" fill="#0a0a0a" stroke="#0a0a0a" stroke-width="0.18">5</text>
<line x1="74.25" y1="263.50" x2="74.25" y2="266.10" stroke="#333" stroke-width="0.8"/>
<text x="74.25" y="273.00" font-size="7.6" text-anchor="middle" fill="#0a0a0a" stroke="#0a0a0a" stroke-width="0.18">10</text>
<line x1="88.25" y1="263.50" x2="88.25" y2="266.10" stroke="#333" stroke-width="0.8"/>
<text x="88.25" y="273.00" font-size="7.6" text-anchor="middle" fill="#0a0a0a" stroke="#0a0a0a" stroke-width="0.18">15</text>
<line x1="102.25" y1="263.50" x2="102.25" y2="266.10" stroke="#333" stroke-width="0.8"/>
<text x="102.25" y="273.00" font-size="7.6" text-anchor="middle" fill="#0a0a0a" stroke="#0a0a0a" stroke-width="0.18">20</text>
<line x1="116.25" y1="263.50" x2="116.25" y2="266.10" stroke="#333" stroke-width="0.8"/>
<text x="116.25" y="273.00" font-size="7.6" text-anchor="middle" fill="#0a0a0a" stroke="#0a0a0a" stroke-width="0.18">25</text>
<line x1="130.25" y1="263.50" x2="130.25" y2="266.10" stroke="#333" stroke-width="0.8"/>
<text x="130.25" y="273.00" font-size="7.6" text-anchor="middle" fill="#0a0a0a" stroke="#0a0a0a" stroke-width="0.18">30</text>
<line x1="144.25" y1="263.50" x2="144.25" y2="266.10" stroke="#333" stroke-width="0.8"/>
<text x="144.25" y="273.00" font-size="7.6" text-anchor="middle" fill="#0a0a0a" stroke="#0a0a0a" stroke-width="0.18">35</text>
<line x1="158.25" y1="263.50" x2="158.25" y2="266.10" stroke="#333" stroke-width="0.8"/>
<text x="158.25" y="273.00" font-size="7.6" text-anchor="middle" fill="#0a0a0a" stroke="#0a0a0a" stroke-width="0.18">40</text>
<line x1="172.25" y1="263.50" x2="172.25" y2="266.10" stroke="#333" stroke-width="0.8"/>
<text x="172.25" y="273.00" font-size="7.6" text-anchor="middle" fill="#0a0a0a" stroke="#0a0a0a" stroke-width="0.18">45</text>
<line x1="186.25" y1="263.50" x2="186.25" y2="266.10" stroke="#333" stroke-width="0.8"/>
<text x="186.25" y="273.00" font-size="7.6" text-anchor="middle" fill="#0a0a0a" stroke="#0a0a0a" stroke-width="0.18">50</text>
<line x1="200.25" y1="263.50" x2="200.25" y2="266.10" stroke="#333" stroke-width="0.8"/>
<text x="200.25" y="273.00" font-size="7.6" text-anchor="middle" fill="#0a0a0a" stroke="#0a0a0a" stroke-width="0.18">55</text>
<polyline points="203.6,236.8 206.2,236.8 206.2,260.8 203.6,260.8" fill="none" stroke="#8a8580" stroke-width="0.9"/>
<text x="207.80" y="257.40" font-size="12" font-weight="bold" fill="#8a8580">***</text>
<line x1="226.00" y1="185.00" x2="235.20" y2="185.00" stroke="#000000" stroke-width="0.8"/>
<circle cx="230.60" cy="185.00" r="1.1199999999999999" fill="#000000" stroke="none" stroke-width="0"/>
<text x="240.50" y="187.30" font-size="6.95" fill="#0a0a0a" stroke="#0a0a0a" stroke-width="0.18">Vehicle (PO, QD)</text>
<line x1="226.00" y1="196.20" x2="235.20" y2="196.20" stroke="#d95f27" stroke-width="0.8"/>
<rect x="229.56" y="195.16" width="2.08" height="2.08" fill="#d95f27"/>
<text x="240.50" y="198.50" font-size="6.55" fill="#0a0a0a" stroke="#0a0a0a" stroke-width="0.18">Tulmimetostat</text>
<line x1="226.00" y1="207.40" x2="235.20" y2="207.40" stroke="#5b9aa3" stroke-width="0.8"/>
<circle cx="230.60" cy="207.40" r="1.16" fill="#fff" stroke="#5b9aa3" stroke-width="1.1"/>
<text x="240.50" y="209.70" font-size="6.83" fill="#0a0a0a" stroke="#0a0a0a" stroke-width="0.18">PF-06821497</text>
<line x1="226.00" y1="218.60" x2="235.20" y2="218.60" stroke="#6b2c91" stroke-width="0.8"/>
<polygon points="230.60,217.24 229.40,219.48 231.80,219.48" fill="#6b2c91"/>
<text x="240.50" y="220.90" font-size="6.55" fill="#0a0a0a" stroke="#0a0a0a" stroke-width="0.18">Valemetostat</text>
<line x1="226.00" y1="229.90" x2="235.20" y2="229.90" stroke="#8fd0f3" stroke-width="0.8"/>
<polygon points="230.60,231.26 229.40,229.02 231.80,229.02" fill="#8fd0f3"/>
<text x="240.50" y="232.20" font-size="6.75" fill="#0a0a0a" stroke="#0a0a0a" stroke-width="0.18">MAK683</text>
<line x1="226.00" y1="241.10" x2="235.20" y2="241.10" stroke="#7fc06a" stroke-width="0.8"/>
<circle cx="230.60" cy="241.10" r="1.1199999999999999" fill="#7fc06a" stroke="none" stroke-width="0"/>
<text x="240.50" y="243.40" font-size="6.55" fill="#0a0a0a" stroke="#0a0a0a" stroke-width="0.18">Tazemetostat</text>
<line x1="226.00" y1="251.90" x2="235.20" y2="251.90" stroke="#2f55a4" stroke-width="0.8"/>
<rect x="229.48" y="250.78" width="2.24" height="2.24" fill="#fff" stroke="#2f55a4" stroke-width="1.1"/>
<text x="240.50" y="254.20" font-size="6.95" fill="#0a0a0a" stroke="#0a0a0a" stroke-width="0.18">CPI-1205</text>
<line x1="293.80" y1="193.80" x2="293.80" y2="249.50" stroke="#777" stroke-width="0.8"/>
<text x="297.30" y="219.00" font-size="6.76" fill="#0a0a0a" stroke="#0a0a0a" stroke-width="0.18">75 mg/kg</text>
<text x="297.30" y="226.90" font-size="7.0" fill="#0a0a0a" stroke="#0a0a0a" stroke-width="0.18">PO, QD</text>
<text x="332.30" y="186.00" font-size="7.45" font-weight="bold" fill="#0a0a0a">TGI relative to vehicle (day 27)</text>
<line x1="331.50" y1="190.40" x2="441.00" y2="190.40" stroke="#888" stroke-width="0.8"/>
<text x="391.00" y="201.10" font-size="8.6" text-anchor="end" fill="#0a0a0a" stroke="#0a0a0a" stroke-width="0.18">Tulmimetostat</text>
<text x="398.80" y="201.10" font-size="8.6" fill="#0a0a0a" stroke="#0a0a0a" stroke-width="0.18">89%</text>
<text x="418.70" y="204.10" font-size="13" font-weight="bold" fill="#948e88">***</text>
<text x="391.00" y="211.55" font-size="8.6" text-anchor="end" fill="#0a0a0a" stroke="#0a0a0a" stroke-width="0.18">PF-06821497</text>
<text x="398.80" y="211.55" font-size="8.6" fill="#0a0a0a" stroke="#0a0a0a" stroke-width="0.18">41%</text>
<text x="418.70" y="214.55" font-size="13" font-weight="bold" fill="#948e88">*</text>
<text x="391.00" y="222.00" font-size="8.6" text-anchor="end" fill="#0a0a0a" stroke="#0a0a0a" stroke-width="0.18">Valemetostat</text>
<text x="398.80" y="222.00" font-size="8.6" fill="#0a0a0a" stroke="#0a0a0a" stroke-width="0.18">83%</text>
<text x="418.70" y="225.00" font-size="13" font-weight="bold" fill="#948e88">***</text>
<text x="391.00" y="232.45" font-size="8.6" text-anchor="end" fill="#0a0a0a" stroke="#0a0a0a" stroke-width="0.18">MAK683</text>
<text x="398.80" y="232.45" font-size="8.6" fill="#0a0a0a" stroke="#0a0a0a" stroke-width="0.18">59%</text>
<text x="418.70" y="235.45" font-size="13" font-weight="bold" fill="#948e88">**</text>
<text x="391.00" y="242.90" font-size="8.6" text-anchor="end" fill="#0a0a0a" stroke="#0a0a0a" stroke-width="0.18">Tazemetostat</text>
<text x="398.80" y="242.90" font-size="8.6" fill="#0a0a0a" stroke="#0a0a0a" stroke-width="0.18">32%</text>
<text x="418.70" y="245.90" font-size="13" font-weight="bold" fill="#948e88">*</text>
<text x="391.00" y="253.35" font-size="8.6" text-anchor="end" fill="#0a0a0a" stroke="#0a0a0a" stroke-width="0.18">CPI-1205</text>
<text x="398.80" y="253.35" font-size="8.6" fill="#0a0a0a" stroke="#0a0a0a" stroke-width="0.18">40%</text>
<text x="418.70" y="256.35" font-size="13" font-weight="bold" fill="#948e88">*</text>
<rect x="43.00" y="305.90" width="169.00" height="164.10" fill="#fff"/>
<line x1="72.50" y1="305.90" x2="72.50" y2="470.00" stroke="#dedede" stroke-width="0.7"/>
<line x1="120.00" y1="305.90" x2="120.00" y2="470.00" stroke="#dedede" stroke-width="0.7"/>
<line x1="167.50" y1="305.90" x2="167.50" y2="470.00" stroke="#dedede" stroke-width="0.7"/>
<line x1="43.00" y1="466.25" x2="212.00" y2="466.25" stroke="#dedede" stroke-width="0.7"/>
<line x1="43.00" y1="427.93" x2="212.00" y2="427.93" stroke="#dedede" stroke-width="0.7"/>
<line x1="43.00" y1="389.60" x2="212.00" y2="389.60" stroke="#dedede" stroke-width="0.7"/>
<line x1="43.00" y1="351.27" x2="212.00" y2="351.27" stroke="#dedede" stroke-width="0.7"/>
<line x1="43.00" y1="312.95" x2="212.00" y2="312.95" stroke="#dedede" stroke-width="0.7"/>
<rect x="43" y="305.9" width="169" height="164.10000000000002" fill="none" stroke="#6e6e6e" stroke-width="1"/>
<text x="42.50" y="468.15" font-size="7.6" text-anchor="end" fill="#4d4d4d" stroke="#4d4d4d" stroke-width="0.18">0.</text>
<text x="42.50" y="429.82" font-size="7.6" text-anchor="end" fill="#4d4d4d" stroke="#4d4d4d" stroke-width="0.18">25.</text>
<text x="42.50" y="391.50" font-size="7.6" text-anchor="end" fill="#4d4d4d" stroke="#4d4d4d" stroke-width="0.18">50.</text>
<text x="42.50" y="353.17" font-size="7.6" text-anchor="end" fill="#4d4d4d" stroke="#4d4d4d" stroke-width="0.18">75.</text>
<text x="42.50" y="314.25" font-size="7.6" text-anchor="end" fill="#4d4d4d" stroke="#4d4d4d" stroke-width="0.18">100.</text>
<text x="74.50" y="478.00" font-size="7.8" text-anchor="middle" fill="#4d4d4d" stroke="#4d4d4d" stroke-width="0.18">400</text>
<line x1="72.50" y1="470.30" x2="72.50" y2="471.90" stroke="#444" stroke-width="0.8"/>
<text x="121.50" y="478.00" font-size="7.8" text-anchor="middle" fill="#4d4d4d" stroke="#4d4d4d" stroke-width="0.18">800</text>
<line x1="120.00" y1="470.30" x2="120.00" y2="471.90" stroke="#444" stroke-width="0.8"/>
<text x="171.50" y="478.00" font-size="7.8" text-anchor="middle" fill="#4d4d4d" stroke="#4d4d4d" stroke-width="0.18">1,200</text>
<line x1="167.50" y1="470.30" x2="167.50" y2="471.90" stroke="#444" stroke-width="0.8"/>
<text x="45.50" y="314.00" font-size="7.2" fill="#333" stroke="#333" stroke-width="0.18"><tspan font-style="italic">R</tspan> = 0.85</text>
<text x="45.50" y="322.20" font-size="7.0" fill="#333" stroke="#333" stroke-width="0.18"><tspan font-style="italic">P</tspan> = 0.015</text>
<circle cx="204.50" cy="313.00" r="5.4" fill="#000000" stroke="none" stroke-width="0"/>
<circle cx="127.00" cy="404.75" r="5.4" fill="#2f55a4" stroke="none" stroke-width="0"/>
<circle cx="145.50" cy="425.75" r="5.4" fill="#7fc06a" stroke="none" stroke-width="0"/>
<circle cx="128.50" cy="454.00" r="5.4" fill="#5f9ea0" stroke="none" stroke-width="0"/>
<circle cx="97.00" cy="463.50" r="5.4" fill="#8fd0f3" stroke="none" stroke-width="0"/>
<circle cx="53.50" cy="462.00" r="5.4" fill="#6b2c91" stroke="none" stroke-width="0"/>
<circle cx="50.50" cy="458.00" r="5.4" fill="#d95f27" stroke="none" stroke-width="0"/>
<text x="208.00" y="325.50" font-size="8.0" text-anchor="end" fill="#0a0a0a" stroke="#0a0a0a" stroke-width="0.18">Vehicle</text>
<text x="133.00" y="402.80" font-size="8.0" fill="#0a0a0a" stroke="#0a0a0a" stroke-width="0.18">CPI-1205</text>
<text x="149.50" y="423.30" font-size="8.05" fill="#0a0a0a" stroke="#0a0a0a" stroke-width="0.18">Tazemetostat</text>
<text x="135.20" y="453.80" font-size="8.0" fill="#0a0a0a" stroke="#0a0a0a" stroke-width="0.18">PF-06821497</text>
<text x="102.10" y="466.30" font-size="8.0" fill="#0a0a0a" stroke="#0a0a0a" stroke-width="0.18">MAK683</text>
<text x="58.40" y="457.60" font-size="7.85" fill="#0a0a0a" stroke="#0a0a0a" stroke-width="0.18">Valemetostat</text>
<text x="45.80" y="449.20" font-size="7.95" fill="#0a0a0a" stroke="#0a0a0a" stroke-width="0.18">Tulmimetostat</text>
<text x="122.30" y="490.60" font-size="8.4" font-weight="bold" text-anchor="middle" fill="#0a0a0a">Tumor volume on day 27 (mm<tspan font-size="4.6" dy="-3.0">3</tspan><tspan dy="3.0">)</tspan></text>
<text x="15.20" y="387.40" font-size="7.7" font-weight="bold" text-anchor="middle" fill="#0a0a0a" transform="rotate(-90 15.20 387.40)">Relative H3K27me3/H3 ratio</text>
<text x="25.30" y="386.50" font-size="7.75" font-weight="bold" text-anchor="middle" fill="#0a0a0a" transform="rotate(-90 25.30 386.50)">(% vs. Vehicle)</text>
<text x="381.80" y="310.60" font-size="8.05" font-weight="bold" text-anchor="middle" fill="#0a0a0a">HT1376 CDX tumor gene expression changes</text>
<text x="282.90" y="384.10" font-size="8.2" text-anchor="middle" fill="#0a0a0a" stroke="#0a0a0a" stroke-width="0.18" transform="rotate(-90 282.90 384.10)">Average log<tspan font-size="5.0" dy="1.7">2</tspan><tspan dy="-1.7"> fold change</tspan></text>
<text x="292.90" y="380.80" font-size="8.2" text-anchor="middle" fill="#0a0a0a" stroke="#0a0a0a" stroke-width="0.18" transform="rotate(-90 292.90 380.80)">(vs. Vehicle)</text>
<line x1="321.20" y1="341.06" x2="321.20" y2="349.37" stroke="#d9622b" stroke-width="1.1"/>
<line x1="318.00" y1="341.06" x2="324.40" y2="341.06" stroke="#d9622b" stroke-width="1.1"/>
<rect x="316.00" y="349.37" width="10.40" height="86.83" fill="#d9622b"/>
<text x="325.70" y="443.00" font-size="8.2" text-anchor="end" fill="#0a0a0a" stroke="#0a0a0a" stroke-width="0.18" transform="rotate(-60 325.70 443.00)">Tulmimetostat</text>
<line x1="338.05" y1="360.89" x2="338.05" y2="368.13" stroke="#6b2c91" stroke-width="1.1"/>
<line x1="334.85" y1="360.89" x2="341.25" y2="360.89" stroke="#6b2c91" stroke-width="1.1"/>
<rect x="332.85" y="368.13" width="10.40" height="68.07" fill="#6b2c91"/>
<text x="342.30" y="446.00" font-size="8.2" text-anchor="end" fill="#0a0a0a" stroke="#0a0a0a" stroke-width="0.18" transform="rotate(-60 342.30 446.00)">Valemetostat</text>
<line x1="354.90" y1="377.24" x2="354.90" y2="382.60" stroke="#8cc8ea" stroke-width="1.1"/>
<line x1="351.70" y1="377.24" x2="358.10" y2="377.24" stroke="#8cc8ea" stroke-width="1.1"/>
<rect x="349.70" y="382.60" width="10.40" height="53.60" fill="#8cc8ea"/>
<text x="359.10" y="446.50" font-size="8.2" text-anchor="end" fill="#0a0a0a" stroke="#0a0a0a" stroke-width="0.18" transform="rotate(-60 359.10 446.50)">MAK683</text>
<line x1="371.75" y1="401.23" x2="371.75" y2="405.78" stroke="#3f7f9a" stroke-width="1.1"/>
<line x1="368.55" y1="401.23" x2="374.95" y2="401.23" stroke="#3f7f9a" stroke-width="1.1"/>
<rect x="366.55" y="405.78" width="10.40" height="30.42" fill="#3f7f9a"/>
<text x="377.20" y="443.50" font-size="8.2" text-anchor="end" fill="#0a0a0a" stroke="#0a0a0a" stroke-width="0.18" transform="rotate(-60 377.20 443.50)">PF-06821497</text>
<line x1="388.60" y1="426.02" x2="388.60" y2="428.43" stroke="#80c04f" stroke-width="1.1"/>
<line x1="385.40" y1="426.02" x2="391.80" y2="426.02" stroke="#80c04f" stroke-width="1.1"/>
<rect x="383.40" y="428.43" width="10.40" height="7.77" fill="#80c04f"/>
<text x="393.10" y="445.50" font-size="8.2" text-anchor="end" fill="#0a0a0a" stroke="#0a0a0a" stroke-width="0.18" transform="rotate(-60 393.10 445.50)">Tazemetostat</text>
<line x1="405.45" y1="428.43" x2="405.45" y2="429.77" stroke="#27407f" stroke-width="1.1"/>
<line x1="402.25" y1="428.43" x2="408.65" y2="428.43" stroke="#27407f" stroke-width="1.1"/>
<rect x="400.25" y="429.77" width="10.40" height="6.43" fill="#27407f"/>
<text x="412.50" y="443.50" font-size="8.2" text-anchor="end" fill="#0a0a0a" stroke="#0a0a0a" stroke-width="0.18" transform="rotate(-60 412.50 443.50)">CPI-1205</text>
<line x1="309.50" y1="328.50" x2="309.50" y2="436.90" stroke="#111" stroke-width="1.4"/>
<line x1="308.80" y1="436.20" x2="419.30" y2="436.20" stroke="#111" stroke-width="1.4"/>
<line x1="305.10" y1="436.20" x2="309.50" y2="436.20" stroke="#111" stroke-width="1.1"/>
<text x="304.50" y="439.70" font-size="8.7" text-anchor="end" fill="#0a0a0a" stroke="#0a0a0a" stroke-width="0.18">0</text>
<line x1="305.10" y1="409.40" x2="309.50" y2="409.40" stroke="#111" stroke-width="1.1"/>
<text x="304.50" y="412.90" font-size="8.7" text-anchor="end" fill="#0a0a0a" stroke="#0a0a0a" stroke-width="0.18">1</text>
<line x1="305.10" y1="382.60" x2="309.50" y2="382.60" stroke="#111" stroke-width="1.1"/>
<text x="304.50" y="386.10" font-size="8.7" text-anchor="end" fill="#0a0a0a" stroke="#0a0a0a" stroke-width="0.18">2</text>
<line x1="305.10" y1="355.80" x2="309.50" y2="355.80" stroke="#111" stroke-width="1.1"/>
<text x="304.50" y="359.30" font-size="8.7" text-anchor="end" fill="#0a0a0a" stroke="#0a0a0a" stroke-width="0.18">3</text>
<line x1="305.10" y1="329.00" x2="309.50" y2="329.00" stroke="#111" stroke-width="1.1"/>
<text x="304.50" y="332.50" font-size="8.7" text-anchor="end" fill="#0a0a0a" stroke="#0a0a0a" stroke-width="0.18">4</text>
<rect x="415.00" y="348.30" width="13.90" height="5.00" fill="#d9622b"/>
<text x="433.50" y="353.30" font-size="7.2" fill="#0a0a0a" stroke="#0a0a0a" stroke-width="0.18">Tulmimetostat</text>
<rect x="415.00" y="358.04" width="13.90" height="5.00" fill="#3f7f9a"/>
<text x="433.50" y="363.04" font-size="7.2" fill="#0a0a0a" stroke="#0a0a0a" stroke-width="0.18">PF-06821497</text>
<rect x="415.00" y="367.78" width="13.90" height="5.00" fill="#6b2c91"/>
<text x="433.50" y="372.78" font-size="7.2" fill="#0a0a0a" stroke="#0a0a0a" stroke-width="0.18">Valemetostat</text>
<rect x="415.00" y="377.52" width="13.90" height="5.00" fill="#8cc8ea"/>
<text x="433.50" y="382.52" font-size="7.2" fill="#0a0a0a" stroke="#0a0a0a" stroke-width="0.18">MAK683</text>
<rect x="415.00" y="387.26" width="13.90" height="5.00" fill="#80c04f"/>
<text x="433.50" y="392.26" font-size="7.2" fill="#0a0a0a" stroke="#0a0a0a" stroke-width="0.18">Tazemetostat</text>
<rect x="415.00" y="397.00" width="13.90" height="5.00" fill="#27407f"/>
<text x="433.50" y="402.00" font-size="7.2" fill="#0a0a0a" stroke="#0a0a0a" stroke-width="0.18">CPI-1205</text>
</svg>
</body>
</html>
